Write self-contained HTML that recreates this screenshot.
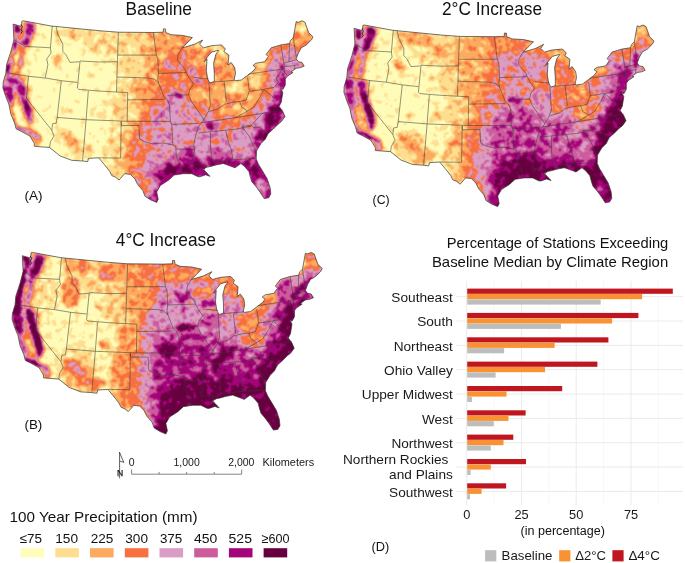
<!DOCTYPE html>
<html><head><meta charset="utf-8"><title>100 Year Precipitation</title>
<style>
html,body{margin:0;padding:0;background:#fff}
body{width:685px;height:563px;overflow:hidden}
svg{display:block}
text{font-family:"Liberation Sans",Arial,sans-serif;fill:#111}
.cal{fill:#111}
.ax{fill:#1a1a1a}
</style></head><body>
<svg width="685" height="563" viewBox="0 0 685 563">
<rect width="685" height="563" fill="#fff"/>
<defs>

<path id="us" d="M13.1,24.1 L17.5,25.3 L20.6,26.3 L21.6,24.0 L21.9,21.1 L23.4,20.8 L51.1,26.0 L100.0,30.8 L118.4,32.2 L153.4,32.5 L163.3,32.2 L163.3,28.9 L165.4,28.9 L165.8,32.5 L170.9,34.7 L182.6,35.4 L188.0,36.6 L192.4,37.6 L188.8,41.3 L184.4,45.7 L182.2,47.8 L187.3,46.4 L194.6,44.2 L202.6,40.1 L199.7,44.2 L203.4,47.8 L211.4,45.7 L221.6,44.9 L225.3,48.9 L223.8,51.5 L228.9,55.1 L228.2,63.2 L228.0,65.0 L231.1,62.4 L234.7,67.6 L235.5,73.4 L234.0,80.0 L235.5,80.7 L241.3,80.0 L247.2,75.6 L253.0,71.2 L255.9,67.6 L253.0,65.4 L255.9,63.2 L264.7,61.7 L268.3,56.6 L266.1,54.4 L271.2,47.8 L280.9,44.9 L289.6,43.5 L290.4,40.5 L293.3,37.6 L296.2,21.6 L298.4,22.3 L302.0,20.8 L305.0,22.3 L308.6,32.5 L313.0,36.9 L311.5,39.8 L306.4,44.9 L301.3,47.8 L298.4,53.0 L296.2,58.8 L298.4,61.7 L302.0,62.4 L304.2,66.1 L300.6,67.6 L296.2,68.3 L291.1,71.9 L293.0,72.5 L287.0,76.5 L285.3,79.2 L285.3,85.1 L282.8,89.6 L280.6,88.1 L282.8,92.5 L281.3,102.0 L279.1,106.4 L282.8,111.5 L285.0,116.6 L281.3,121.7 L278.4,123.9 L273.3,129.0 L268.2,133.4 L265.3,139.2 L260.9,143.6 L256.5,150.9 L256.2,159.1 L258.4,164.2 L262.8,171.5 L267.2,178.8 L270.1,187.6 L270.8,194.1 L268.6,197.8 L264.2,198.5 L259.9,191.9 L256.2,186.8 L251.8,181.7 L250.4,177.3 L248.9,171.5 L244.5,166.4 L240.9,163.5 L235.0,167.8 L231.4,166.4 L223.4,163.5 L216.1,164.9 L210.9,166.4 L207.3,167.1 L202.9,169.3 L206.0,172.0 L210.0,176.3 L205.6,174.8 L200.0,176.8 L197.6,176.6 L191.8,173.7 L183.0,173.7 L174.2,175.1 L168.4,180.3 L160.4,185.4 L156.7,191.9 L158.2,199.2 L156.7,202.4 L150.9,200.0 L145.0,196.3 L142.8,190.5 L137.7,184.6 L134.8,178.8 L130.4,174.4 L124.6,173.7 L120.2,178.8 L119.1,180.0 L115.8,177.3 L111.8,175.6 L109.6,171.2 L103.8,163.9 L98.7,157.8 L88.5,158.4 L87.7,161.7 L82.6,161.0 L71.7,160.3 L60.0,155.9 L49.6,147.5 L34.3,146.3 L34.3,143.4 L29.9,136.1 L21.9,131.7 L16.1,128.8 L14.6,123.0 L10.9,114.2 L8.8,104.0 L5.8,96.7 L2.9,88.0 L3.2,82.2 L5.8,73.4 L6.6,64.6 L10.9,51.5 L13.9,39.8Z M218.0,50.3 L211.4,52.2 L207.7,56.6 L204.1,61.7 L207.0,58.8 L206.3,70.5 L207.7,79.2 L210.0,82.9 L214.3,81.4 L214.3,73.4 L213.6,63.2 L215.8,54.4 L218.7,50.5Z" fill-rule="evenodd" clip-rule="evenodd"/>
<g id="borders" fill="none" stroke="#3a3a34" stroke-width="0.6" stroke-opacity="0.9" stroke-linejoin="round">
<path d="M13.9,39.8 L19.0,42.7 L25.5,46.4 L43.8,47.4 L50.4,47.8"/>
<path d="M52.3,26.0 L50.4,47.8 L51.1,53.0 L46.7,58.8 L47.9,64.6 L45.3,77.8"/>
<path d="M6.6,72.7 L28.5,76.3 L45.3,78.0 L61.3,80.7 L77.4,82.4"/>
<path d="M56.2,26.7 L57.7,34.0 L62.8,44.2 L62.8,51.5 L65.7,54.4 L70.0,62.4 L79.6,61.7"/>
<path d="M80.0,61.4 L77.4,88.0 L78.8,89.4 L100.0,91.1 L116.5,92.0"/>
<path d="M80.0,61.0 L100.0,62.0 L117.4,61.7"/>
<path d="M28.5,76.3 L26.3,98.1 L51.8,130.3 L54.0,136.1 L50.4,141.9 L49.6,147.5"/>
<path d="M51.8,130.3 L52.6,123.7 L56.2,123.2 L57.2,117.4 L61.3,80.7"/>
<path d="M57.2,117.4 L86.1,119.7 L127.2,121.3"/>
<path d="M88.3,90.8 L86.1,119.7 L82.6,161.0"/>
<path d="M118.4,32.2 L117.4,61.7 L116.5,92.0"/>
<path d="M118.0,55.1 L156.3,55.1"/>
<path d="M116.8,77.0 L148.4,78.0 L154.2,79.1 L158.6,83.1 L161.5,90.4 L164.5,97.7 L167.4,99.9 L169.6,105.0 L170.3,121.4"/>
<path d="M153.4,32.5 L156.3,55.1 L157.8,58.8 L158.5,73.4 L157.8,79.5 L158.6,83.1"/>
<path d="M158.5,73.4 L186.3,72.5"/>
<path d="M182.2,47.8 L178.2,54.4 L177.5,60.3 L184.8,69.0 L186.3,72.5 L189.2,78.1 L193.6,84.0 L189.9,89.1 L188.5,94.9 L191.4,101.5 L196.5,108.8 L201.6,116.1 L203.8,119.7 L200.9,123.4 L198.7,126.3 L195.8,135.1 L193.6,145.0 L194.7,149.6 L193.9,154.0 L191.0,164.2 L203.4,164.2 L204.9,171.5"/>
<path d="M116.5,92.0 L127.7,92.6 L127.2,121.3"/>
<path d="M127.7,99.9 L164.5,99.4"/>
<path d="M127.2,121.3 L170.3,121.4"/>
<path d="M121.2,121.4 L121.4,125.5 L138.9,125.5 L139.6,138.6 L144.0,141.5 L152.3,143.8 L163.0,143.0 L172.8,144.8"/>
<path d="M121.2,121.4 L120.6,158.1 L98.7,157.8"/>
<path d="M170.3,121.4 L171.8,124.7 L172.8,144.8 L175.7,146.5 L176.4,156.9 L180.1,164.2 L181.5,173.7"/>
<path d="M171.8,124.4 L198.7,123.4"/>
<path d="M167.4,95.3 L188.5,94.9"/>
<path d="M175.7,149.0 L194.7,149.6"/>
<path d="M193.6,77.4 L208.9,78.9"/>
<path d="M208.9,82.5 L210.4,105.9 L208.2,110.8"/>
<path d="M203.8,119.3 L208.2,111.7 L218.4,108.8 L224.2,104.4 L233.0,102.2 L239.6,101.5 L246.1,100.0 L249.3,91.3 L247.6,77.4"/>
<path d="M224.2,81.8 L226.4,101.8"/>
<path d="M214.0,82.0 L234.5,80.3"/>
<path d="M239.6,101.5 L241.8,107.3 L247.6,111.0 L253.4,107.3 L260.0,97.1 L263.8,89.6"/>
<path d="M249.3,91.3 L256.4,90.5 L274.0,87.4 L278.4,82.3 L276.2,77.9 L279.0,74.5 L282.3,69.0"/>
<path d="M248.5,75.0 L249.0,74.0 L282.3,69.0 L286.7,74.9"/>
<path d="M263.8,89.6 L271.1,95.4 L276.9,100.5"/>
<path d="M201.6,122.7 L235.9,117.6 L247.6,111.0"/>
<path d="M235.9,117.6 L282.8,110.0"/>
<path d="M198.7,132.9 L235.9,129.2 L250.5,126.3 L262.0,113.5"/>
<path d="M210.4,132.2 L210.5,145.0 L211.7,162.7"/>
<path d="M225.7,130.7 L229.3,145.0 L231.4,149.6 L232.8,159.8"/>
<path d="M213.1,162.0 L232.8,159.8 L254.7,158.4"/>
<path d="M241.9,126.5 L249.2,136.3 L255.8,150.9"/>
<path d="M241.9,126.5 L251.4,125.4 L253.6,127.6 L259.4,127.6 L268.2,133.4"/>
<path d="M280.9,44.9 L283.8,63.2 L284.5,72.7"/>
<path d="M289.6,43.5 L288.9,61.7"/>
<path d="M293.3,37.6 L296.2,57.3"/>
<path d="M283.8,63.2 L296.9,59.5"/>
<path d="M283.8,66.8 L295.5,65.4"/>
<path d="M294.6,65.5 L294.8,69.0"/>
<path d="M21.2,24.5 L22.3,27.0 L21.2,29.5 L22.2,31.5 L20.8,33.5" stroke="#222" stroke-width="1"/>
</g>
<clipPath id="clipA"><use href="#us" transform="translate(0,0)" clip-rule="evenodd"/></clipPath>
<filter id="fA" filterUnits="userSpaceOnUse" x="-10" y="5" width="340" height="215" color-interpolation-filters="sRGB">
<feGaussianBlur in="SourceGraphic" stdDeviation="1.6" result="f"/>
<feTurbulence type="fractalNoise" baseFrequency="0.15" numOctaves="3" seed="3" result="n"/>
<feColorMatrix in="n" type="matrix" values="1 0 0 0 0 1 0 0 0 0 1 0 0 0 0 0 0 0 0 1" result="ng"/>
<feComposite in="f" in2="ng" operator="arithmetic" k1="0" k2="1" k3="0.5" k4="-0.25" result="s"/>
<feComponentTransfer in="s"><feFuncR type="discrete" tableValues="1.000 0.996 0.992 0.973 0.855 0.800 0.647 0.400"/><feFuncG type="discrete" tableValues="0.992 0.867 0.667 0.439 0.616 0.361 0.016 0.000"/><feFuncB type="discrete" tableValues="0.733 0.557 0.369 0.247 0.776 0.612 0.482 0.247"/></feComponentTransfer>
<feConvolveMatrix order="3" kernelMatrix="1 2 1 2 5 2 1 2 1" divisor="17" edgeMode="duplicate" preserveAlpha="true"/>
</filter>
<clipPath id="clipB"><use href="#us" transform="translate(9.2,231.6)" clip-rule="evenodd"/></clipPath>
<filter id="fB" filterUnits="userSpaceOnUse" x="-0.8000000000000007" y="236.6" width="340" height="215" color-interpolation-filters="sRGB">
<feGaussianBlur in="SourceGraphic" stdDeviation="1.6" result="f"/>
<feTurbulence type="fractalNoise" baseFrequency="0.15" numOctaves="3" seed="11" result="n"/>
<feColorMatrix in="n" type="matrix" values="1 0 0 0 0 1 0 0 0 0 1 0 0 0 0 0 0 0 0 1" result="ng"/>
<feComposite in="f" in2="ng" operator="arithmetic" k1="0" k2="1" k3="0.5" k4="-0.25" result="s"/>
<feComponentTransfer in="s"><feFuncR type="discrete" tableValues="1.000 0.996 0.992 0.973 0.855 0.800 0.647 0.400"/><feFuncG type="discrete" tableValues="0.992 0.867 0.667 0.439 0.616 0.361 0.016 0.000"/><feFuncB type="discrete" tableValues="0.733 0.557 0.369 0.247 0.776 0.612 0.482 0.247"/></feComponentTransfer>
<feConvolveMatrix order="3" kernelMatrix="1 2 1 2 5 2 1 2 1" divisor="17" edgeMode="duplicate" preserveAlpha="true"/>
</filter>
<clipPath id="clipC"><use href="#us" transform="translate(341,4.2)" clip-rule="evenodd"/></clipPath>
<filter id="fC" filterUnits="userSpaceOnUse" x="331" y="9.2" width="340" height="215" color-interpolation-filters="sRGB">
<feGaussianBlur in="SourceGraphic" stdDeviation="1.6" result="f"/>
<feTurbulence type="fractalNoise" baseFrequency="0.15" numOctaves="3" seed="7" result="n"/>
<feColorMatrix in="n" type="matrix" values="1 0 0 0 0 1 0 0 0 0 1 0 0 0 0 0 0 0 0 1" result="ng"/>
<feComposite in="f" in2="ng" operator="arithmetic" k1="0" k2="1" k3="0.5" k4="-0.25" result="s"/>
<feComponentTransfer in="s"><feFuncR type="discrete" tableValues="1.000 0.996 0.992 0.973 0.855 0.800 0.647 0.400"/><feFuncG type="discrete" tableValues="0.992 0.867 0.667 0.439 0.616 0.361 0.016 0.000"/><feFuncB type="discrete" tableValues="0.733 0.557 0.369 0.247 0.776 0.612 0.482 0.247"/></feComponentTransfer>
<feConvolveMatrix order="3" kernelMatrix="1 2 1 2 5 2 1 2 1" divisor="17" edgeMode="duplicate" preserveAlpha="true"/>
</filter>
<filter id="zb" x="-5%" y="-5%" width="110%" height="110%" color-interpolation-filters="sRGB"><feGaussianBlur stdDeviation="3.5"/></filter>
</defs>
<g clip-path="url(#clipA)"><g filter="url(#fA)"><g transform="translate(0,0)"><g filter="url(#zb)">
<rect x="-20" y="-5" width="360" height="235" fill="#080808"/>
<path d="M86.0,28.0C67.0,33.8 85.0,40.3 86.0,45.0C87.0,49.7 88.8,53.5 92.0,56.0C95.2,58.5 101.0,59.0 105.0,60.0C109.0,61.0 114.2,57.0 116.0,62.0C117.8,67.0 117.3,84.5 116.0,90.0C114.7,95.5 110.0,91.7 108.0,95.0C106.0,98.3 103.7,105.8 104.0,110.0C104.3,114.2 109.3,116.7 110.0,120.0C110.7,123.3 109.0,125.0 108.0,130.0C107.0,135.0 104.8,144.2 104.0,150.0C103.2,155.8 102.0,159.2 103.0,165.0C104.0,170.8 100.5,177.5 110.0,185.0C119.5,192.5 131.7,205.8 160.0,210.0C188.3,214.2 251.7,228.3 280.0,210.0C308.3,191.7 323.3,133.3 330.0,100.0C336.7,66.7 341.7,25.0 320.0,10.0C298.3,-5.0 239.0,7.0 200.0,10.0C161.0,13.0 105.0,22.2 86.0,28.0Z" fill="#303030"/>
<path d="M150.0,25.0C121.7,30.8 150.8,40.0 150.0,45.0C149.2,50.0 146.2,51.7 145.0,55.0C143.8,58.3 143.8,61.7 143.0,65.0C142.2,68.3 141.8,71.7 140.0,75.0C138.2,78.3 133.3,81.2 132.0,85.0C130.7,88.8 131.0,95.5 132.0,98.0C133.0,100.5 137.0,96.7 138.0,100.0C139.0,103.3 139.7,113.8 138.0,118.0C136.3,122.2 130.3,121.3 128.0,125.0C125.7,128.7 125.0,133.3 124.0,140.0C123.0,146.7 122.0,158.3 122.0,165.0C122.0,171.7 117.7,172.5 124.0,180.0C130.3,187.5 134.0,205.0 160.0,210.0C186.0,215.0 251.7,228.3 280.0,210.0C308.3,191.7 323.3,133.3 330.0,100.0C336.7,66.7 350.0,22.5 320.0,10.0C290.0,-2.5 178.3,19.2 150.0,25.0Z" fill="#505050"/>
<path d="M200.0,38.0C196.7,37.5 189.7,44.7 185.0,47.0C180.3,49.3 175.8,49.8 172.0,52.0C168.2,54.2 164.0,56.2 162.0,60.0C160.0,63.8 161.0,71.3 160.0,75.0C159.0,78.7 157.3,79.2 156.0,82.0C154.7,84.8 153.3,89.0 152.0,92.0C150.7,95.0 148.7,97.3 148.0,100.0C147.3,102.7 148.3,105.0 148.0,108.0C147.7,111.0 147.7,114.7 146.0,118.0C144.3,121.3 140.7,124.3 138.0,128.0C135.3,131.7 131.3,133.8 130.0,140.0C128.7,146.2 129.5,158.3 130.0,165.0C130.5,171.7 128.0,172.5 133.0,180.0C138.0,187.5 135.5,205.0 160.0,210.0C184.5,215.0 256.7,228.3 280.0,210.0C303.3,191.7 296.7,125.0 300.0,100.0C303.3,75.0 302.5,70.0 300.0,60.0C297.5,50.0 291.3,40.8 285.0,40.0C278.7,39.2 267.8,50.0 262.0,55.0C256.2,60.0 253.7,65.2 250.0,70.0C246.3,74.8 245.8,81.3 240.0,84.0C234.2,86.7 221.2,90.0 215.0,86.0C208.8,82.0 204.7,66.0 203.0,60.0C201.3,54.0 205.5,53.7 205.0,50.0C204.5,46.3 203.3,38.5 200.0,38.0Z" fill="#707070"/>
<path d="M164.0,95.0C167.8,93.5 179.5,93.0 183.0,94.0C186.5,95.0 182.8,98.5 185.0,101.0C187.2,103.5 192.8,106.7 196.0,109.0C199.2,111.3 201.7,114.3 204.0,115.0C206.3,115.7 207.2,111.7 210.0,113.0C212.8,114.3 216.7,120.3 221.0,123.0C225.3,125.7 231.7,129.0 236.0,129.0C240.3,129.0 243.7,126.2 247.0,123.0C250.3,119.8 252.5,113.7 256.0,110.0C259.5,106.3 265.5,104.0 268.0,101.0C270.5,98.0 269.8,94.8 271.0,92.0C272.2,89.2 275.3,87.7 275.0,84.0C274.7,80.3 270.0,74.3 269.0,70.0C268.0,65.7 268.7,61.3 269.0,58.0C269.3,54.7 269.0,50.0 271.0,50.0C273.0,50.0 278.2,58.3 281.0,58.0C283.8,57.7 285.8,50.2 288.0,48.0C290.2,45.8 292.0,45.2 294.0,45.0C296.0,44.8 297.3,44.5 300.0,47.0C302.7,49.5 310.0,51.2 310.0,60.0C310.0,68.8 303.3,88.3 300.0,100.0C296.7,111.7 293.3,111.7 290.0,130.0C286.7,148.3 301.7,196.7 280.0,210.0C258.3,223.3 181.7,211.7 160.0,210.0C138.3,208.3 152.5,203.3 150.0,200.0C147.5,196.7 146.7,194.0 145.0,190.0C143.3,186.0 139.7,182.7 140.0,176.0C140.3,169.3 145.8,156.8 147.0,150.0C148.2,143.2 148.2,138.3 147.0,135.0C145.8,131.7 139.8,133.2 140.0,130.0C140.2,126.8 146.3,119.3 148.0,116.0C149.7,112.7 148.0,112.2 150.0,110.0C152.0,107.8 157.7,105.5 160.0,103.0C162.3,100.5 160.2,96.5 164.0,95.0Z" fill="#8f8f8f"/>
<path d="M148.0,205.0C126.5,202.7 150.0,198.8 151.0,196.0C152.0,193.2 153.3,190.5 154.0,188.0C154.7,185.5 155.8,182.8 155.0,181.0C154.2,179.2 150.0,178.8 149.0,177.0C148.0,175.2 147.5,172.2 149.0,170.0C150.5,167.8 154.2,165.7 158.0,164.0C161.8,162.3 167.3,162.7 172.0,160.0C176.7,157.3 182.0,150.3 186.0,148.0C190.0,145.7 194.0,144.3 196.0,146.0C198.0,147.7 195.3,157.0 198.0,158.0C200.7,159.0 208.0,153.7 212.0,152.0C216.0,150.3 219.0,147.3 222.0,148.0C225.0,148.7 226.5,154.3 230.0,156.0C233.5,157.7 238.7,158.2 243.0,158.0C247.3,157.8 254.5,158.0 256.0,155.0C257.5,152.0 251.0,144.8 252.0,140.0C253.0,135.2 259.5,132.0 262.0,126.0C264.5,120.0 265.2,109.0 267.0,104.0C268.8,99.0 271.5,100.3 273.0,96.0C274.5,91.7 273.2,82.3 276.0,78.0C278.8,73.7 287.7,66.3 290.0,70.0C292.3,73.7 290.0,90.0 290.0,100.0C290.0,110.0 291.7,111.7 290.0,130.0C288.3,148.3 303.7,197.5 280.0,210.0C256.3,222.5 169.5,207.3 148.0,205.0Z" fill="#afafaf"/>
<path d="M151.0,204.0C130.0,201.7 153.0,198.7 154.0,196.0C155.0,193.3 156.2,190.7 157.0,188.0C157.8,185.3 159.8,182.2 159.0,180.0C158.2,177.8 153.2,176.5 152.0,175.0C150.8,173.5 150.7,172.3 152.0,171.0C153.3,169.7 157.0,168.2 160.0,167.0C163.0,165.8 167.3,165.5 170.0,164.0C172.7,162.5 173.0,160.3 176.0,158.0C179.0,155.7 184.8,151.5 188.0,150.0C191.2,148.5 193.5,147.3 195.0,149.0C196.5,150.7 195.2,158.2 197.0,160.0C198.8,161.8 202.3,161.5 206.0,160.0C209.7,158.5 215.2,151.2 219.0,151.0C222.8,150.8 225.2,157.5 229.0,159.0C232.8,160.5 237.7,160.2 242.0,160.0C246.3,159.8 253.0,160.3 255.0,158.0C257.0,155.7 253.7,150.0 254.0,146.0C254.3,142.0 255.3,137.7 257.0,134.0C258.7,130.3 262.2,127.2 264.0,124.0C265.8,120.8 267.0,118.3 268.0,115.0C269.0,111.7 268.7,107.0 270.0,104.0C271.3,101.0 274.7,101.0 276.0,97.0C277.3,93.0 275.7,84.2 278.0,80.0C280.3,75.8 288.0,63.7 290.0,72.0C292.0,80.3 291.7,107.0 290.0,130.0C288.3,153.0 303.2,197.7 280.0,210.0C256.8,222.3 172.0,206.3 151.0,204.0Z" fill="#cfcfcf"/>
<path d="M206.0,52.0C207.3,49.0 217.7,45.0 222.0,46.0C226.3,47.0 229.7,53.3 232.0,58.0C234.3,62.7 233.0,72.0 236.0,74.0C239.0,76.0 245.7,72.7 250.0,70.0C254.3,67.3 259.0,59.7 262.0,58.0C265.0,56.3 268.0,57.3 268.0,60.0C268.0,62.7 263.7,68.7 262.0,74.0C260.3,79.3 260.7,87.7 258.0,92.0C255.3,96.3 251.0,98.3 246.0,100.0C241.0,101.7 233.7,101.3 228.0,102.0C222.3,102.7 215.2,107.0 212.0,104.0C208.8,101.0 208.7,87.7 209.0,84.0C209.3,80.3 213.2,85.3 214.0,82.0C214.8,78.7 215.3,69.0 214.0,64.0C212.7,59.0 204.7,55.0 206.0,52.0Z" fill="#535353"/>
<path d="M12.8,23.8C16.4,21.1 31.2,22.3 35.0,23.8C38.9,25.2 36.4,29.1 35.8,32.5C35.2,35.9 33.1,40.8 31.4,44.2C29.7,47.6 26.9,49.8 25.5,53.0C24.2,56.1 24.0,59.8 23.4,63.2C22.7,66.6 20.9,70.7 21.9,73.4C22.9,76.1 28.2,75.6 29.2,79.2C30.2,82.8 32.2,92.4 27.7,95.0C23.2,97.6 6.3,97.1 2.2,95.0C-1.9,92.9 2.4,85.8 2.9,82.2C3.5,78.6 5.0,76.3 5.5,73.4C6.1,70.5 5.3,68.3 6.1,64.6C7.0,61.0 9.3,55.6 10.5,51.5C11.7,47.4 13.0,44.4 13.4,39.8C13.8,35.2 9.2,26.4 12.8,23.8Z" fill="#505050"/>
</g>
<path d="M256.0,180.0C256.8,178.5 260.3,177.3 262.0,178.0C263.7,178.7 265.3,181.7 266.0,184.0C266.7,186.3 266.8,190.7 266.0,192.0C265.2,193.3 262.5,192.8 261.0,192.0C259.5,191.2 257.8,189.0 257.0,187.0C256.2,185.0 255.2,181.5 256.0,180.0Z" fill="#8f8f8f"/>
<path d="M167.0,166.0C168.5,165.5 171.5,165.5 173.0,166.0C174.5,166.5 175.5,167.4 176.0,168.8C176.5,170.1 176.5,172.9 176.0,174.2C175.5,175.6 174.5,176.5 173.0,177.0C171.5,177.5 168.5,177.5 167.0,177.0C165.5,176.5 164.5,175.6 164.0,174.2C163.5,172.9 163.5,170.1 164.0,168.8C164.5,167.4 165.5,166.5 167.0,166.0Z" fill="#efefef"/>
<path d="M182.2,164.0C183.4,163.7 185.6,163.7 186.8,164.0C187.9,164.3 188.6,164.9 189.0,165.9C189.4,166.8 189.4,168.7 189.0,169.6C188.6,170.6 187.9,171.2 186.8,171.5C185.6,171.8 183.4,171.8 182.2,171.5C181.1,171.2 180.4,170.6 180.0,169.6C179.6,168.7 179.6,166.8 180.0,165.9C180.4,164.9 181.1,164.3 182.2,164.0Z" fill="#efefef"/>
<path d="M196.9,162.7C198.0,162.5 200.1,162.5 201.2,162.7C202.3,162.9 203.0,163.2 203.4,163.8C203.8,164.3 203.8,165.4 203.4,165.9C203.0,166.5 202.3,166.8 201.2,167.0C200.1,167.2 198.0,167.2 196.9,167.0C195.8,166.8 195.1,166.5 194.7,165.9C194.3,165.4 194.3,164.3 194.7,163.8C195.1,163.2 195.8,162.9 196.9,162.7Z" fill="#efefef"/>
<path d="M246.2,161.0C246.9,160.8 248.1,160.8 248.8,161.0C249.4,161.2 249.8,161.6 250.0,162.2C250.2,162.9 250.2,164.1 250.0,164.8C249.8,165.4 249.4,165.8 248.8,166.0C248.1,166.2 246.9,166.2 246.2,166.0C245.6,165.8 245.2,165.4 245.0,164.8C244.8,164.1 244.8,162.9 245.0,162.2C245.2,161.6 245.6,161.2 246.2,161.0Z" fill="#efefef"/>
<path d="M252.1,168.0C252.7,167.9 253.8,167.9 254.4,168.0C254.9,168.1 255.3,168.4 255.5,168.9C255.7,169.3 255.7,170.2 255.5,170.6C255.3,171.1 254.9,171.4 254.4,171.5C253.8,171.6 252.7,171.6 252.1,171.5C251.6,171.4 251.2,171.1 251.0,170.6C250.8,170.2 250.8,169.3 251.0,168.9C251.2,168.4 251.6,168.1 252.1,168.0Z" fill="#efefef"/>
<path d="M272.5,105.7C274.0,105.4 276.9,105.4 278.4,105.7C279.8,106.0 280.8,106.6 281.3,107.5C281.8,108.4 281.8,110.3 281.3,111.2C280.8,112.1 279.8,112.7 278.4,113.0C276.9,113.3 274.0,113.3 272.5,113.0C271.1,112.7 270.1,112.1 269.6,111.2C269.1,110.3 269.1,108.4 269.6,107.5C270.1,106.6 271.1,106.0 272.5,105.7Z" fill="#efefef"/>
<path d="M268.2,114.0C269.9,113.6 273.1,113.6 274.8,114.0C276.4,114.4 277.5,115.1 278.0,116.2C278.5,117.4 278.5,119.6 278.0,120.8C277.5,121.9 276.4,122.6 274.8,123.0C273.1,123.4 269.9,123.4 268.2,123.0C266.6,122.6 265.5,121.9 265.0,120.8C264.5,119.6 264.5,117.4 265.0,116.2C265.5,115.1 266.6,114.4 268.2,114.0Z" fill="#efefef"/>
<path d="M259.4,132.0C260.8,131.7 263.7,131.7 265.1,132.0C266.6,132.3 267.5,132.9 268.0,133.8C268.5,134.6 268.5,136.4 268.0,137.2C267.5,138.1 266.6,138.7 265.1,139.0C263.7,139.3 260.8,139.3 259.4,139.0C257.9,138.7 257.0,138.1 256.5,137.2C256.0,136.4 256.0,134.6 256.5,133.8C257.0,132.9 257.9,132.3 259.4,132.0Z" fill="#efefef"/>
<path d="M144.0,178.0C145.5,177.4 148.5,177.4 150.0,178.0C151.5,178.6 152.5,179.9 153.0,181.8C153.5,183.6 153.5,187.4 153.0,189.2C152.5,191.1 151.5,192.4 150.0,193.0C148.5,193.6 145.5,193.6 144.0,193.0C142.5,192.4 141.5,191.1 141.0,189.2C140.5,187.4 140.5,183.6 141.0,181.8C141.5,179.9 142.5,178.6 144.0,178.0Z" fill="#767676"/>
<path d="M279.0,64.0C279.3,61.2 281.2,61.2 282.0,63.0C282.8,64.8 283.7,69.7 284.0,75.0C284.3,80.3 285.0,91.7 284.0,95.0C283.0,98.3 278.7,97.5 278.0,95.0C277.3,92.5 279.8,85.2 280.0,80.0C280.2,74.8 278.7,66.8 279.0,64.0Z" fill="#c2c2c2"/>
<path d="M165.1,61.0C165.8,60.8 167.3,60.8 168.0,61.0C168.8,61.2 169.3,61.5 169.5,62.1C169.7,62.7 169.7,63.8 169.5,64.3C169.3,64.9 168.8,65.2 168.0,65.4C167.3,65.6 165.8,65.6 165.1,65.4C164.3,65.2 163.8,64.9 163.6,64.3C163.4,63.8 163.4,62.7 163.6,62.1C163.8,61.5 164.3,61.2 165.1,61.0Z" fill="#8f8f8f"/>
<path d="M174.9,64.6C176.2,64.4 178.8,64.4 180.1,64.6C181.3,64.8 182.2,65.3 182.6,66.1C183.0,66.8 183.0,68.3 182.6,69.0C182.2,69.8 181.3,70.3 180.1,70.5C178.8,70.7 176.2,70.7 174.9,70.5C173.7,70.3 172.8,69.8 172.4,69.0C172.0,68.3 172.0,66.8 172.4,66.1C172.8,65.3 173.7,64.8 174.9,64.6Z" fill="#8f8f8f"/>
<path d="M190.8,69.0C192.0,68.6 194.4,68.6 195.6,69.0C196.8,69.4 197.6,70.1 198.0,71.2C198.4,72.3 198.4,74.5 198.0,75.6C197.6,76.7 196.8,77.4 195.6,77.8C194.4,78.2 192.0,78.2 190.8,77.8C189.6,77.4 188.8,76.7 188.4,75.6C188.0,74.5 188.0,72.3 188.4,71.2C188.8,70.1 189.6,69.4 190.8,69.0Z" fill="#8f8f8f"/>
<path d="M182.1,81.4C182.7,81.1 183.8,81.1 184.4,81.4C184.9,81.7 185.3,82.2 185.5,83.1C185.7,83.9 185.7,85.5 185.5,86.3C185.3,87.2 184.9,87.7 184.4,88.0C183.8,88.3 182.7,88.3 182.1,88.0C181.6,87.7 181.2,87.2 181.0,86.3C180.8,85.5 180.8,83.9 181.0,83.1C181.2,82.2 181.6,81.7 182.1,81.4Z" fill="#8f8f8f"/>
<path d="M196.2,78.0C197.4,77.8 200.0,77.8 201.2,78.0C202.5,78.2 203.4,78.8 203.8,79.5C204.2,80.2 204.2,81.8 203.8,82.5C203.4,83.2 202.5,83.8 201.2,84.0C200.0,84.2 197.4,84.2 196.2,84.0C194.9,83.8 194.0,83.2 193.6,82.5C193.2,81.8 193.2,80.2 193.6,79.5C194.0,78.8 194.9,78.2 196.2,78.0Z" fill="#8f8f8f"/>
<path d="M165.9,65.0C167.3,64.8 170.2,64.8 171.7,65.0C173.1,65.2 174.1,65.5 174.6,66.1C175.1,66.6 175.1,67.8 174.6,68.3C174.1,68.9 173.1,69.2 171.7,69.4C170.2,69.6 167.3,69.6 165.9,69.4C164.5,69.2 163.5,68.9 163.0,68.3C162.5,67.8 162.5,66.6 163.0,66.1C163.5,65.5 164.5,65.2 165.9,65.0Z" fill="#8f8f8f"/>
<path d="M172.5,93.0C174.2,92.8 177.8,92.8 179.5,93.0C181.2,93.2 182.4,93.6 183.0,94.2C183.6,94.9 183.6,96.1 183.0,96.8C182.4,97.4 181.2,97.8 179.5,98.0C177.8,98.2 174.2,98.2 172.5,98.0C170.8,97.8 169.6,97.4 169.0,96.8C168.4,96.1 168.4,94.9 169.0,94.2C169.6,93.6 170.8,93.2 172.5,93.0Z" fill="#cfcfcf"/>
<path d="M160.8,113.0C161.6,112.8 163.4,112.8 164.2,113.0C165.1,113.2 165.7,113.6 166.0,114.2C166.3,114.9 166.3,116.1 166.0,116.8C165.7,117.4 165.1,117.8 164.2,118.0C163.4,118.2 161.6,118.2 160.8,118.0C159.9,117.8 159.3,117.4 159.0,116.8C158.7,116.1 158.7,114.9 159.0,114.2C159.3,113.6 159.9,113.2 160.8,113.0Z" fill="#cfcfcf"/>
<path d="M208.8,122.0C210.1,121.6 212.9,121.6 214.2,122.0C215.6,122.4 216.5,123.1 217.0,124.2C217.5,125.4 217.5,127.6 217.0,128.8C216.5,129.9 215.6,130.6 214.2,131.0C212.9,131.4 210.1,131.4 208.8,131.0C207.4,130.6 206.5,129.9 206.0,128.8C205.5,127.6 205.5,125.4 206.0,124.2C206.5,123.1 207.4,122.4 208.8,122.0Z" fill="#cfcfcf"/>
<path d="M200.8,41.5C204.6,41.1 212.4,41.1 216.2,41.5C220.1,41.9 222.7,42.6 224.0,43.8C225.3,44.9 225.3,47.1 224.0,48.2C222.7,49.4 220.1,50.1 216.2,50.5C212.4,50.9 204.6,50.9 200.8,50.5C196.9,50.1 194.3,49.4 193.0,48.2C191.7,47.1 191.7,44.9 193.0,43.8C194.3,42.6 196.9,41.9 200.8,41.5Z" fill="#303030"/>
<path d="M219.4,50.0C220.8,49.6 223.7,49.6 225.1,50.0C226.6,50.4 227.5,51.1 228.0,52.2C228.5,53.3 228.5,55.5 228.0,56.6C227.5,57.7 226.6,58.4 225.1,58.8C223.7,59.2 220.8,59.2 219.4,58.8C217.9,58.4 217.0,57.7 216.5,56.6C216.0,55.5 216.0,53.3 216.5,52.2C217.0,51.1 217.9,50.4 219.4,50.0Z" fill="#303030"/>
<path d="M218.2,64.6C219.9,64.2 223.1,64.2 224.8,64.6C226.4,65.0 227.5,65.7 228.0,66.8C228.5,67.9 228.5,70.1 228.0,71.2C227.5,72.3 226.4,73.0 224.8,73.4C223.1,73.8 219.9,73.8 218.2,73.4C216.6,73.0 215.5,72.3 215.0,71.2C214.5,70.1 214.5,67.9 215.0,66.8C215.5,65.7 216.6,65.0 218.2,64.6Z" fill="#666666"/>
<path d="M230.8,82.5C232.6,82.0 236.4,82.0 238.2,82.5C240.1,83.0 241.4,83.9 242.0,85.4C242.6,86.8 242.6,89.7 242.0,91.1C241.4,92.6 240.1,93.5 238.2,94.0C236.4,94.5 232.6,94.5 230.8,94.0C228.9,93.5 227.6,92.6 227.0,91.1C226.4,89.7 226.4,86.8 227.0,85.4C227.6,83.9 228.9,83.0 230.8,82.5Z" fill="#303030"/>
<path d="M256.2,62.0C257.9,61.5 261.1,61.5 262.8,62.0C264.4,62.5 265.5,63.4 266.0,64.8C266.5,66.3 266.5,69.1 266.0,70.6C265.5,72.0 264.4,72.9 262.8,73.4C261.1,73.9 257.9,73.9 256.2,73.4C254.6,72.9 253.5,72.0 253.0,70.6C252.5,69.1 252.5,66.3 253.0,64.8C253.5,63.4 254.6,62.5 256.2,62.0Z" fill="#303030"/>
<path d="M236.2,104.0C237.9,103.6 241.1,103.6 242.8,104.0C244.4,104.4 245.5,105.3 246.0,106.7C246.5,108.0 246.5,110.6 246.0,111.9C245.5,113.3 244.4,114.2 242.8,114.6C241.1,115.0 237.9,115.0 236.2,114.6C234.6,114.2 233.5,113.3 233.0,111.9C232.5,110.6 232.5,108.0 233.0,106.7C233.5,105.3 234.6,104.4 236.2,104.0Z" fill="#303030"/>
<path d="M253.4,76.7C254.8,76.2 257.7,76.2 259.1,76.7C260.6,77.2 261.5,78.2 262.0,79.6C262.5,81.1 262.5,84.0 262.0,85.5C261.5,86.9 260.6,87.9 259.1,88.4C257.7,88.9 254.8,88.9 253.4,88.4C251.9,87.9 251.0,86.9 250.5,85.5C250.0,84.0 250.0,81.1 250.5,79.6C251.0,78.2 251.9,77.2 253.4,76.7Z" fill="#303030"/>
<path d="M246.0,100.0C249.7,95.7 256.8,89.0 260.0,88.0C263.2,87.0 266.0,91.0 265.0,94.0C264.0,97.0 257.2,102.7 254.0,106.0C250.8,109.3 248.7,112.7 246.0,114.0C243.3,115.3 238.0,116.3 238.0,114.0C238.0,111.7 242.3,104.3 246.0,100.0Z" fill="#505050"/>
<path d="M222.8,107.3C225.0,107.0 229.4,107.0 231.6,107.3C233.8,107.6 235.3,108.2 236.0,109.1C236.7,110.0 236.7,111.9 236.0,112.8C235.3,113.7 233.8,114.3 231.6,114.6C229.4,114.9 225.0,114.9 222.8,114.6C220.6,114.3 219.1,113.7 218.4,112.8C217.7,111.9 217.7,110.0 218.4,109.1C219.1,108.2 220.6,107.6 222.8,107.3Z" fill="#505050"/>
<path d="M193.8,87.0C196.1,86.4 200.9,86.4 203.2,87.0C205.6,87.6 207.2,88.8 208.0,90.6C208.8,92.4 208.8,96.1 208.0,97.9C207.2,99.7 205.6,100.9 203.2,101.5C200.9,102.1 196.1,102.1 193.8,101.5C191.4,100.9 189.8,99.7 189.0,97.9C188.2,96.1 188.2,92.4 189.0,90.6C189.8,88.8 191.4,87.6 193.8,87.0Z" fill="#505050"/>
<path d="M196.0,56.0C197.5,55.6 200.5,55.6 202.0,56.0C203.5,56.4 204.5,57.2 205.0,58.5C205.5,59.8 205.5,62.2 205.0,63.5C204.5,64.8 203.5,65.6 202.0,66.0C200.5,66.4 197.5,66.4 196.0,66.0C194.5,65.6 193.5,64.8 193.0,63.5C192.5,62.2 192.5,59.8 193.0,58.5C193.5,57.2 194.5,56.4 196.0,56.0Z" fill="#505050"/>
<path d="M296.0,21.0C297.3,19.0 303.8,19.5 306.0,21.0C308.2,22.5 310.3,28.0 309.0,30.0C307.7,32.0 300.2,34.5 298.0,33.0C295.8,31.5 294.7,23.0 296.0,21.0Z" fill="#303030"/>
<path d="M294.0,32.0C296.8,30.0 305.8,29.2 309.0,30.0C312.2,30.8 313.5,34.5 313.0,37.0C312.5,39.5 309.5,44.2 306.0,45.0C302.5,45.8 294.0,44.2 292.0,42.0C290.0,39.8 291.2,34.0 294.0,32.0Z" fill="#505050"/>
<path d="M13.1,24.1C14.1,21.6 18.5,23.6 19.7,25.2C20.9,26.9 20.8,30.8 20.4,34.0C20.1,37.1 18.2,41.0 17.5,44.2C16.8,47.4 16.7,49.8 16.1,53.0C15.5,56.1 14.6,59.8 13.9,63.2C13.1,66.6 12.5,71.2 11.7,73.4C10.8,75.6 9.7,76.3 8.8,76.3C7.8,76.3 6.2,75.3 5.8,73.4C5.5,71.4 5.7,68.3 6.6,64.6C7.4,61.0 9.7,55.6 10.9,51.5C12.2,47.4 13.5,44.4 13.9,39.8C14.2,35.2 12.2,26.5 13.1,24.1Z" fill="#8f8f8f"/>
<path d="M13.6,24.6C14.6,23.8 18.9,24.2 20.0,25.5C21.1,26.8 21.1,31.2 20.4,32.5C19.8,33.9 17.2,34.1 16.1,33.7C15.0,33.3 14.3,31.8 13.9,30.3C13.5,28.8 12.6,25.4 13.6,24.6Z" fill="#cfcfcf"/>
<path d="M14.6,27.0C15.3,26.3 18.5,27.0 19.3,27.8C20.0,28.7 19.6,31.5 19.0,32.2C18.3,32.9 16.1,32.8 15.3,31.9C14.6,31.1 13.9,27.7 14.6,27.0Z" fill="#efefef"/>
<path d="M13.1,40.1C13.9,39.2 15.8,39.5 16.4,41.0C16.9,42.4 17.1,47.4 16.6,48.9C16.2,50.3 14.4,50.2 13.6,49.7C12.8,49.3 12.0,48.0 12.0,46.4C11.9,44.8 12.4,41.0 13.1,40.1Z" fill="#cfcfcf"/>
<path d="M26.0,22.6C27.4,21.6 32.7,22.3 34.2,23.8C35.7,25.2 35.4,28.8 35.0,31.1C34.6,33.3 32.8,35.0 31.8,37.2C30.8,39.4 30.3,42.9 28.9,44.5C27.5,46.1 24.8,47.1 23.4,46.8C21.9,46.5 20.2,44.4 20.1,42.7C20.1,41.1 22.2,39.1 23.1,36.9C23.9,34.7 24.9,32.0 25.4,29.6C25.9,27.2 24.5,23.6 26.0,22.6Z" fill="#cfcfcf"/>
<path d="M20.1,46.4C21.1,45.4 24.5,45.0 25.1,47.1C25.7,49.2 24.3,54.9 23.6,58.8C23.0,62.7 22.4,68.0 21.3,70.5C20.2,72.9 17.8,74.6 17.2,73.4C16.7,72.2 17.7,66.6 18.1,63.2C18.5,59.8 19.2,55.8 19.6,53.0C19.9,50.2 19.2,47.4 20.1,46.4Z" fill="#8f8f8f"/>
<path d="M5.3,63.2C5.9,61.7 8.2,62.6 9.1,64.3C9.9,66.0 10.7,71.1 10.5,73.4C10.4,75.7 9.1,78.1 8.2,78.1C7.3,78.1 5.5,75.9 5.0,73.4C4.5,70.9 4.6,64.7 5.3,63.2Z" fill="#cfcfcf"/>
<path d="M5.5,65.4C5.9,64.3 7.7,65.0 8.2,66.1C8.6,67.2 8.6,71.2 8.2,72.2C7.8,73.2 6.3,73.4 5.8,72.2C5.4,71.1 5.2,66.4 5.5,65.4Z" fill="#efefef"/>
<path d="M17.2,50.0C18.0,49.8 19.8,50.8 19.9,53.0C20.0,55.1 18.7,60.3 17.8,63.2C16.9,66.1 15.3,70.5 14.6,70.5C13.9,70.5 13.5,65.9 13.6,63.2C13.7,60.5 14.6,56.6 15.2,54.4C15.8,52.2 16.4,50.3 17.2,50.0Z" fill="#303030"/>
<path d="M53.3,27.4C53.9,25.9 56.8,25.3 58.4,28.1C60.0,30.9 62.8,41.3 62.8,44.2C62.8,47.1 59.7,46.9 58.4,45.7C57.1,44.4 55.6,39.9 54.7,36.9C53.9,33.9 52.7,28.9 53.3,27.4Z" fill="#303030"/>
<path d="M52.6,54.4C53.9,53.4 59.1,54.2 61.3,55.9C63.5,57.6 66.2,62.4 65.7,64.6C65.2,66.8 60.5,69.5 58.4,69.0C56.3,68.5 54.3,64.1 53.3,61.7C52.3,59.3 51.2,55.4 52.6,54.4Z" fill="#303030"/>
<path d="M55.5,57.3C56.1,56.4 60.2,57.6 61.3,58.8C62.4,60.0 62.7,63.7 62.0,64.6C61.4,65.6 58.8,65.9 57.7,64.6C56.6,63.4 54.9,58.3 55.5,57.3Z" fill="#505050"/>
<path d="M57.7,28.1C60.8,27.2 78.2,27.4 81.8,29.6C85.3,31.8 81.0,39.6 78.8,41.3C76.6,43.0 71.3,40.8 68.6,39.8C65.9,38.8 64.6,37.4 62.8,35.4C60.9,33.5 54.5,29.1 57.7,28.1Z" fill="#303030"/>
<path d="M68.6,28.9C69.6,27.7 75.2,28.0 75.9,29.6C76.6,31.2 74.0,37.1 73.0,38.4C72.0,39.6 70.8,38.5 70.1,36.9C69.3,35.3 67.6,30.1 68.6,28.9Z" fill="#505050"/>
<path d="M86.1,71.9C87.1,71.7 92.3,73.6 93.4,74.9C94.5,76.1 93.7,79.0 92.7,79.2C91.7,79.5 88.7,77.5 87.6,76.3C86.5,75.1 85.2,72.2 86.1,71.9Z" fill="#303030"/>
<path d="M54.0,128.8C55.7,127.1 61.1,125.4 65.7,127.3C70.3,129.3 77.1,137.3 81.8,140.5C86.4,143.6 91.2,144.1 93.4,146.3C95.6,148.5 96.8,151.2 94.9,153.6C92.9,156.0 86.1,160.4 81.8,160.9C77.4,161.4 71.5,159.0 68.6,156.5C65.7,154.1 66.4,149.5 64.2,146.3C62.0,143.2 57.2,140.5 55.5,137.6C53.8,134.6 52.3,130.5 54.0,128.8Z" fill="#303030"/>
<path d="M61.3,133.2C62.3,132.4 67.2,132.9 70.1,134.6C73.0,136.3 78.3,141.4 78.8,143.4C79.3,145.3 75.4,147.0 73.0,146.3C70.6,145.6 66.2,141.2 64.2,139.0C62.3,136.8 60.3,133.9 61.3,133.2Z" fill="#505050"/>
<path d="M62.8,111.3C64.2,110.6 71.4,109.5 73.0,109.8C74.6,110.1 73.7,112.4 72.3,113.0C70.8,113.7 65.8,113.9 64.2,113.6C62.7,113.3 61.3,111.9 62.8,111.3Z" fill="#303030"/>
<path d="M90.5,109.8C91.8,108.4 98.4,107.1 100.0,108.4C101.6,109.6 101.3,115.7 100.0,117.1C98.7,118.6 93.6,118.3 92.0,117.1C90.4,115.9 89.2,111.3 90.5,109.8Z" fill="#303030"/>
<path d="M111.1,136.9C112.3,136.4 117.4,137.4 118.4,138.4C119.4,139.3 118.2,142.3 116.9,142.7C115.7,143.2 112.1,142.3 111.1,141.3C110.1,140.3 109.9,137.4 111.1,136.9Z" fill="#505050"/>
<path d="M102.8,146.8C103.2,145.8 105.1,146.2 105.5,147.6C106.0,148.9 106.0,153.6 105.5,154.7C105.1,155.8 103.2,155.3 102.8,154.0C102.3,152.7 102.3,147.9 102.8,146.8Z" fill="#505050"/>
<path d="M2.9,79.2C6.0,76.2 16.9,74.4 20.4,77.0C24.0,79.7 27.1,92.0 24.1,95.0C21.0,98.0 5.7,97.6 2.2,95.0C-1.3,92.4 -0.1,82.2 2.9,79.2Z" fill="#8f8f8f"/>
<path d="M6.6,77.8C7.8,77.0 14.2,78.0 16.1,79.2C17.9,80.5 18.7,84.3 17.5,85.1C16.3,85.8 10.6,84.8 8.8,83.6C6.9,82.4 5.4,78.5 6.6,77.8Z" fill="#cfcfcf"/>
<path d="M15.3,83.6C16.1,82.2 20.4,84.6 21.9,86.5C23.4,88.4 24.8,93.6 24.1,95.0C23.4,96.4 19.0,96.9 17.5,95.0C16.1,93.1 14.6,85.0 15.3,83.6Z" fill="#cfcfcf"/>
<path d="M13.9,85.0C15.5,82.1 24.5,83.1 27.0,85.0C29.6,86.9 27.9,91.8 29.2,96.7C30.5,101.5 34.3,109.6 35.0,114.2C35.8,118.8 34.8,122.5 33.6,124.4C32.4,126.4 29.7,127.6 27.7,125.9C25.8,124.2 23.6,118.1 21.9,114.2C20.2,110.3 18.9,107.4 17.5,102.5C16.2,97.7 12.3,87.9 13.9,85.0Z" fill="#505050"/>
<path d="M2.2,85.0C3.6,83.1 12.3,83.5 14.6,85.0C16.9,86.5 16.1,90.8 16.1,93.8C16.1,96.7 15.1,100.1 14.6,102.5C14.1,105.0 14.1,108.1 13.1,108.4C12.2,108.6 10.0,105.9 8.8,104.0C7.5,102.0 6.9,99.8 5.8,96.7C4.7,93.5 0.7,86.9 2.2,85.0Z" fill="#8f8f8f"/>
<path d="M4.1,87.2C4.7,85.1 10.5,86.6 12.0,88.6C13.4,90.7 13.5,97.5 12.8,99.6C12.2,101.7 9.5,103.4 8.0,101.4C6.6,99.3 3.4,89.3 4.1,87.2Z" fill="#cfcfcf"/>
<path d="M16.1,85.0C17.2,83.5 22.3,82.8 24.1,85.0C25.9,87.2 25.8,94.2 27.0,98.1C28.2,102.0 30.4,105.0 31.4,108.4C32.4,111.8 33.2,116.1 32.8,118.6C32.5,121.0 30.4,123.7 29.2,123.0C28.0,122.2 26.8,117.6 25.5,114.2C24.3,110.8 23.2,105.9 21.9,102.5C20.6,99.1 18.5,96.7 17.5,93.8C16.5,90.8 15.0,86.5 16.1,85.0Z" fill="#cfcfcf"/>
<path d="M23.8,100.3C24.3,99.1 26.8,99.9 28.0,102.2C29.2,104.5 30.9,111.7 30.9,114.2C31.0,116.7 29.4,118.1 28.5,117.4C27.5,116.7 26.0,112.7 25.3,109.8C24.5,107.0 23.3,101.6 23.8,100.3Z" fill="#efefef"/>
<path d="M8.5,103.7C8.9,102.7 11.9,104.7 13.4,108.4C15.0,112.1 17.5,122.7 17.8,125.9C18.1,129.1 16.2,129.6 15.0,127.6C13.8,125.7 11.8,118.2 10.7,114.2C9.6,110.2 8.0,104.7 8.5,103.7Z" fill="#707070"/>
<path d="M15.3,125.9C17.4,125.6 24.7,127.1 29.2,128.8C33.7,130.5 40.6,133.4 42.3,136.1C44.0,138.8 40.8,143.4 39.4,144.9C38.1,146.3 35.9,146.3 34.3,144.9C32.7,143.4 32.8,138.5 29.9,136.1C27.0,133.7 19.2,132.0 16.8,130.3C14.4,128.6 13.3,126.1 15.3,125.9Z" fill="#707070"/>
<path d="M15.8,126.3C16.9,126.0 21.3,126.9 23.4,127.8C25.4,128.7 28.3,131.0 28.0,131.7C27.8,132.4 23.8,132.3 21.9,132.0C20.0,131.7 17.5,130.8 16.5,129.8C15.5,128.9 14.6,126.7 15.8,126.3Z" fill="#cfcfcf"/>
<path d="M29.2,131.7C30.3,131.8 36.4,134.3 38.0,135.4C39.5,136.4 39.8,137.9 38.7,137.8C37.6,137.8 33.0,135.9 31.4,134.9C29.8,133.9 28.1,131.6 29.2,131.7Z" fill="#cfcfcf"/>
</g></g></g>
<use href="#borders" transform="translate(0,0)"/>
<use href="#us" transform="translate(0,0)" fill="none" stroke="#33332c" stroke-width="0.75" stroke-opacity="0.9" stroke-linejoin="round"/>
<g clip-path="url(#clipB)"><g filter="url(#fB)"><g transform="translate(9.2,231.6)"><g filter="url(#zb)">
<rect x="-20" y="-5" width="360" height="235" fill="#131313"/>
<path d="M62.0,24.0C71.0,21.5 108.8,23.7 118.0,30.0C127.2,36.3 117.3,52.3 117.0,62.0C116.7,71.7 119.2,83.3 116.0,88.0C112.8,92.7 102.0,94.3 98.0,90.0C94.0,85.7 95.8,67.0 92.0,62.0C88.2,57.0 79.7,62.8 75.0,60.0C70.3,57.2 66.2,51.0 64.0,45.0C61.8,39.0 53.0,26.5 62.0,24.0Z" fill="#393939"/>
<path d="M108.0,28.0C113.7,23.0 143.7,25.3 150.0,30.0C156.3,34.7 148.0,48.0 146.0,56.0C144.0,64.0 140.3,70.7 138.0,78.0C135.7,85.3 133.3,93.0 132.0,100.0C130.7,107.0 131.0,115.3 130.0,120.0C129.0,124.7 127.3,123.0 126.0,128.0C124.7,133.0 122.7,142.7 122.0,150.0C121.3,157.3 121.7,166.7 122.0,172.0C122.3,177.3 125.7,181.0 124.0,182.0C122.3,183.0 115.7,181.7 112.0,178.0C108.3,174.3 103.7,168.3 102.0,160.0C100.3,151.7 100.7,136.3 102.0,128.0C103.3,119.7 108.7,115.5 110.0,110.0C111.3,104.5 108.7,98.3 110.0,95.0C111.3,91.7 117.0,95.8 118.0,90.0C119.0,84.2 117.7,70.3 116.0,60.0C114.3,49.7 102.3,33.0 108.0,28.0Z" fill="#595959"/>
<path d="M130.0,28.0C139.0,24.3 187.3,30.7 200.0,34.0C212.7,37.3 201.3,46.0 206.0,48.0C210.7,50.0 223.0,43.3 228.0,46.0C233.0,48.7 234.0,58.3 236.0,64.0C238.0,69.7 237.3,78.7 240.0,80.0C242.7,81.3 247.3,75.3 252.0,72.0C256.7,68.7 264.7,64.3 268.0,60.0C271.3,55.7 267.3,49.3 272.0,46.0C276.7,42.7 292.0,44.7 296.0,40.0C300.0,35.3 293.7,21.3 296.0,18.0C298.3,14.7 306.7,16.7 310.0,20.0C313.3,23.3 317.7,34.0 316.0,38.0C314.3,42.0 304.3,42.7 300.0,44.0C295.7,45.3 295.3,42.3 290.0,46.0C284.7,49.7 273.7,60.3 268.0,66.0C262.3,71.7 259.0,74.3 256.0,80.0C253.0,85.7 252.7,96.0 250.0,100.0C247.3,104.0 243.3,104.7 240.0,104.0C236.7,103.3 232.3,99.3 230.0,96.0C227.7,92.7 228.7,86.0 226.0,84.0C223.3,82.0 217.3,89.7 214.0,84.0C210.7,78.3 211.3,55.7 206.0,50.0C200.7,44.3 189.7,49.0 182.0,50.0C174.3,51.0 165.3,52.7 160.0,56.0C154.7,59.3 152.3,64.3 150.0,70.0C147.7,75.7 147.7,83.3 146.0,90.0C144.3,96.7 141.7,103.3 140.0,110.0C138.3,116.7 137.3,123.3 136.0,130.0C134.7,136.7 132.7,142.3 132.0,150.0C131.3,157.7 132.3,170.3 132.0,176.0C131.7,181.7 131.7,184.0 130.0,184.0C128.3,184.0 123.3,181.7 122.0,176.0C120.7,170.3 121.3,158.0 122.0,150.0C122.7,142.0 124.7,133.0 126.0,128.0C127.3,123.0 129.0,124.7 130.0,120.0C131.0,115.3 130.7,107.0 132.0,100.0C133.3,93.0 135.7,85.3 138.0,78.0C140.3,70.7 147.3,64.3 146.0,56.0C144.7,47.7 121.0,31.7 130.0,28.0Z" fill="#767676"/>
<path d="M148.0,56.0C154.3,52.7 172.3,51.0 182.0,50.0C191.7,49.0 200.7,44.3 206.0,50.0C211.3,55.7 210.7,78.3 214.0,84.0C217.3,89.7 223.3,82.0 226.0,84.0C228.7,86.0 227.7,92.7 230.0,96.0C232.3,99.3 236.7,103.3 240.0,104.0C243.3,104.7 247.3,104.0 250.0,100.0C252.7,96.0 253.0,85.7 256.0,80.0C259.0,74.3 262.3,71.7 268.0,66.0C273.7,60.3 284.7,49.7 290.0,46.0C295.3,42.3 295.7,45.3 300.0,44.0C304.3,42.7 312.7,28.7 316.0,38.0C319.3,47.3 326.0,71.3 320.0,100.0C314.0,128.7 306.7,191.7 280.0,210.0C253.3,228.3 182.3,210.7 160.0,210.0C137.7,209.3 149.3,209.0 146.0,206.0C142.7,203.0 142.2,197.0 140.0,192.0C137.8,187.0 134.3,183.0 133.0,176.0C131.7,169.0 131.8,156.8 132.0,150.0C132.2,143.2 133.5,140.0 134.0,135.0C134.5,130.0 134.8,125.8 135.0,120.0C135.2,114.2 134.7,105.8 135.0,100.0C135.3,94.2 135.5,90.0 137.0,85.0C138.5,80.0 142.2,74.8 144.0,70.0C145.8,65.2 141.7,59.3 148.0,56.0Z" fill="#999999"/>
<path d="M143.0,128.0C143.8,121.7 144.5,116.3 146.0,112.0C147.5,107.7 147.0,104.0 152.0,102.0C157.0,100.0 169.3,99.7 176.0,100.0C182.7,100.3 187.3,102.7 192.0,104.0C196.7,105.3 200.0,107.3 204.0,108.0C208.0,108.7 212.0,107.3 216.0,108.0C220.0,108.7 224.3,110.7 228.0,112.0C231.7,113.3 235.0,114.7 238.0,116.0C241.0,117.3 243.0,120.7 246.0,120.0C249.0,119.3 253.3,115.3 256.0,112.0C258.7,108.7 260.3,104.7 262.0,100.0C263.7,95.3 264.7,90.0 266.0,84.0C267.3,78.0 268.0,69.7 270.0,64.0C272.0,58.3 274.7,52.0 278.0,50.0C281.3,48.0 287.0,52.0 290.0,52.0C293.0,52.0 293.0,50.7 296.0,50.0C299.0,49.3 304.0,39.7 308.0,48.0C312.0,56.3 324.7,73.0 320.0,100.0C315.3,127.0 306.7,191.7 280.0,210.0C253.3,228.3 182.0,210.7 160.0,210.0C138.0,209.3 150.8,209.0 148.0,206.0C145.2,203.0 144.2,197.0 143.0,192.0C141.8,187.0 141.3,183.0 141.0,176.0C140.7,169.0 140.7,158.0 141.0,150.0C141.3,142.0 142.2,134.3 143.0,128.0Z" fill="#b9b9b9"/>
<path d="M147.0,150.0C147.7,141.7 148.7,132.7 151.0,126.0C153.3,119.3 156.8,113.7 161.0,110.0C165.2,106.3 170.8,104.7 176.0,104.0C181.2,103.3 188.0,104.3 192.0,106.0C196.0,107.7 198.0,110.7 200.0,114.0C202.0,117.3 201.3,124.0 204.0,126.0C206.7,128.0 212.0,125.3 216.0,126.0C220.0,126.7 224.3,129.0 228.0,130.0C231.7,131.0 235.0,132.3 238.0,132.0C241.0,131.7 243.0,130.7 246.0,128.0C249.0,125.3 253.3,120.3 256.0,116.0C258.7,111.7 260.3,107.3 262.0,102.0C263.7,96.7 264.7,90.3 266.0,84.0C267.3,77.7 268.0,69.7 270.0,64.0C272.0,58.3 274.7,52.0 278.0,50.0C281.3,48.0 287.0,52.0 290.0,52.0C293.0,52.0 293.0,50.7 296.0,50.0C299.0,49.3 304.0,39.7 308.0,48.0C312.0,56.3 324.7,73.0 320.0,100.0C315.3,127.0 306.7,191.7 280.0,210.0C253.3,228.3 181.3,210.7 160.0,210.0C138.7,209.3 153.8,209.0 152.0,206.0C150.2,203.0 149.8,197.0 149.0,192.0C148.2,187.0 147.3,183.0 147.0,176.0C146.7,169.0 146.3,158.3 147.0,150.0Z" fill="#c9c9c9"/>
<path d="M146.0,208.0C124.0,204.7 147.0,195.3 148.0,190.0C149.0,184.7 151.5,180.1 152.0,176.0C152.5,171.9 148.5,169.2 150.8,165.4C153.1,161.6 161.6,155.9 165.7,153.0C169.8,150.1 170.6,149.2 175.6,148.0C180.6,146.8 190.1,145.2 195.5,145.6C200.9,146.0 204.6,150.5 207.9,150.5C211.2,150.5 212.4,146.0 215.3,145.6C218.2,145.2 221.9,146.3 225.2,148.0C228.5,149.7 231.9,154.7 235.2,155.5C238.5,156.3 242.5,155.9 245.0,153.0C247.5,150.1 248.3,142.1 250.0,138.0C251.7,133.9 252.5,131.5 255.0,128.2C257.5,124.9 261.7,121.6 265.0,118.3C268.3,115.0 270.7,111.5 274.9,108.4C279.1,105.4 285.8,93.1 290.0,100.0C294.2,106.9 301.7,131.7 300.0,150.0C298.3,168.3 305.7,200.3 280.0,210.0C254.3,219.7 168.0,211.3 146.0,208.0Z" fill="#efefef"/>
<path d="M12.8,23.8C16.4,21.1 31.2,22.3 35.0,23.8C38.9,25.2 36.4,29.1 35.8,32.5C35.2,35.9 33.1,40.8 31.4,44.2C29.7,47.6 26.9,49.8 25.5,53.0C24.2,56.1 24.0,59.8 23.4,63.2C22.7,66.6 20.9,70.7 21.9,73.4C22.9,76.1 28.2,75.6 29.2,79.2C30.2,82.8 32.2,92.4 27.7,95.0C23.2,97.6 6.3,97.1 2.2,95.0C-1.9,92.9 2.4,85.8 2.9,82.2C3.5,78.6 5.0,76.3 5.5,73.4C6.1,70.5 5.3,68.3 6.1,64.6C7.0,61.0 9.3,55.6 10.5,51.5C11.7,47.4 13.0,44.4 13.4,39.8C13.8,35.2 9.2,26.4 12.8,23.8Z" fill="#797979"/>
<path d="M59.0,120.0C63.5,118.3 72.5,118.3 77.0,120.0C81.5,121.7 84.5,125.0 86.0,130.0C87.5,135.0 87.5,145.0 86.0,150.0C84.5,155.0 81.5,158.3 77.0,160.0C72.5,161.7 63.5,161.7 59.0,160.0C54.5,158.3 51.5,155.0 50.0,150.0C48.5,145.0 48.5,135.0 50.0,130.0C51.5,125.0 54.5,121.7 59.0,120.0Z" fill="#3d3d3d"/>
</g>
<path d="M208.0,84.0C208.7,78.3 208.0,69.3 212.0,66.0C216.0,62.7 228.0,61.7 232.0,64.0C236.0,66.3 236.7,76.3 236.0,80.0C235.3,83.7 229.7,82.7 228.0,86.0C226.3,89.3 228.3,96.7 226.0,100.0C223.7,103.3 217.0,106.0 214.0,106.0C211.0,106.0 209.0,103.7 208.0,100.0C207.0,96.3 207.3,89.7 208.0,84.0Z" fill="#969696"/>
<path d="M203.0,132.0C203.7,129.2 208.8,123.0 212.0,120.0C215.2,117.0 219.7,114.3 222.0,114.0C224.3,113.7 227.0,115.7 226.0,118.0C225.0,120.3 219.0,124.8 216.0,128.0C213.0,131.2 210.2,136.3 208.0,137.0C205.8,137.7 202.3,134.8 203.0,132.0Z" fill="#efefef"/>
<path d="M172.4,91.6C174.6,91.3 178.9,91.3 181.1,91.6C183.3,91.9 184.8,92.5 185.5,93.4C186.2,94.4 186.2,96.2 185.5,97.2C184.8,98.1 183.3,98.7 181.1,99.0C178.9,99.3 174.6,99.3 172.4,99.0C170.2,98.7 168.7,98.1 168.0,97.2C167.3,96.2 167.3,94.4 168.0,93.4C168.7,92.5 170.2,91.9 172.4,91.6Z" fill="#efefef"/>
<path d="M153.7,110.8C155.7,110.3 159.7,110.3 161.8,110.8C163.8,111.3 165.1,112.4 165.8,113.9C166.5,115.5 166.5,118.6 165.8,120.2C165.1,121.7 163.8,122.8 161.8,123.3C159.7,123.8 155.7,123.8 153.7,123.3C151.6,122.8 150.3,121.7 149.6,120.2C148.9,118.6 148.9,115.5 149.6,113.9C150.3,112.4 151.6,111.3 153.7,110.8Z" fill="#efefef"/>
<path d="M272.0,88.0C272.9,82.6 277.7,80.3 280.0,76.0C282.3,71.7 284.0,64.7 286.0,62.0C288.0,59.3 291.0,58.7 292.0,60.0C293.0,61.3 293.0,66.7 292.0,70.0C291.0,73.3 286.3,75.0 286.0,80.0C285.7,85.0 291.9,95.3 290.0,100.0C288.1,104.7 277.9,110.4 274.9,108.4C271.9,106.4 271.1,93.4 272.0,88.0Z" fill="#efefef"/>
<path d="M271.1,47.0C273.0,46.0 276.7,46.0 278.6,47.0C280.4,48.0 281.7,50.1 282.3,53.2C282.9,56.4 282.9,62.6 282.3,65.8C281.7,68.9 280.4,71.0 278.6,72.0C276.7,73.0 273.0,73.0 271.1,72.0C269.3,71.0 268.0,68.9 267.4,65.8C266.8,62.6 266.8,56.4 267.4,53.2C268.0,50.1 269.3,48.0 271.1,47.0Z" fill="#bfbfbf"/>
<path d="M283.8,45.0C285.1,44.4 287.9,44.4 289.2,45.0C290.6,45.6 291.5,46.9 292.0,48.8C292.5,50.6 292.5,54.4 292.0,56.2C291.5,58.1 290.6,59.4 289.2,60.0C287.9,60.6 285.1,60.6 283.8,60.0C282.4,59.4 281.5,58.1 281.0,56.2C280.5,54.4 280.5,50.6 281.0,48.8C281.5,46.9 282.4,45.6 283.8,45.0Z" fill="#9f9f9f"/>
<path d="M296.0,36.0C298.0,34.2 303.0,32.7 306.0,33.0C309.0,33.3 313.7,35.8 314.0,38.0C314.3,40.2 310.7,44.0 308.0,46.0C305.3,48.0 300.3,50.3 298.0,50.0C295.7,49.7 294.3,46.3 294.0,44.0C293.7,41.7 294.0,37.8 296.0,36.0Z" fill="#9c9c9c"/>
<path d="M284.0,60.0C286.3,55.3 294.7,50.3 298.0,48.0C301.3,45.7 303.7,44.0 304.0,46.0C304.3,48.0 301.3,56.0 300.0,60.0C298.7,64.0 298.7,67.3 296.0,70.0C293.3,72.7 286.0,77.7 284.0,76.0C282.0,74.3 281.7,64.7 284.0,60.0Z" fill="#cfcfcf"/>
<path d="M170.0,60.5C172.2,60.1 176.5,60.1 178.7,60.5C180.8,60.9 182.3,61.8 183.0,63.0C183.7,64.2 183.7,66.8 183.0,68.0C182.3,69.2 180.8,70.1 178.7,70.5C176.5,70.9 172.2,70.9 170.0,70.5C167.9,70.1 166.4,69.2 165.7,68.0C165.0,66.8 165.0,64.2 165.7,63.0C166.4,61.8 167.9,60.9 170.0,60.5Z" fill="#c9c9c9"/>
<path d="M194.2,68.0C196.1,67.7 199.8,67.7 201.7,68.0C203.5,68.3 204.8,68.9 205.4,69.8C206.0,70.8 206.0,72.6 205.4,73.6C204.8,74.5 203.5,75.1 201.7,75.4C199.8,75.7 196.1,75.7 194.2,75.4C192.4,75.1 191.1,74.5 190.5,73.6C189.9,72.6 189.9,70.8 190.5,69.8C191.1,68.9 192.4,68.3 194.2,68.0Z" fill="#c9c9c9"/>
<path d="M195.0,84.0C197.5,82.9 202.5,82.9 205.0,84.0C207.5,85.1 209.2,87.2 210.0,90.5C210.8,93.8 210.8,100.2 210.0,103.5C209.2,106.8 207.5,108.9 205.0,110.0C202.5,111.1 197.5,111.1 195.0,110.0C192.5,108.9 190.8,106.8 190.0,103.5C189.2,100.2 189.2,93.8 190.0,90.5C190.8,87.2 192.5,85.1 195.0,84.0Z" fill="#afafaf"/>
<path d="M158.2,33.0C162.0,32.3 169.4,32.3 173.2,33.0C176.9,33.7 179.4,35.2 180.6,37.4C181.8,39.6 181.8,44.0 180.6,46.2C179.4,48.4 176.9,49.9 173.2,50.6C169.4,51.3 162.0,51.3 158.2,50.6C154.5,49.9 152.0,48.4 150.8,46.2C149.6,44.0 149.6,39.6 150.8,37.4C152.0,35.2 154.5,33.7 158.2,33.0Z" fill="#636363"/>
<path d="M188.0,55.6C190.5,55.1 195.5,55.1 198.0,55.6C200.5,56.1 202.2,57.2 203.0,58.7C203.8,60.2 203.8,63.4 203.0,64.9C202.2,66.5 200.5,67.5 198.0,68.0C195.5,68.5 190.5,68.5 188.0,68.0C185.5,67.5 183.8,66.5 183.0,64.9C182.2,63.4 182.2,60.2 183.0,58.7C183.8,57.2 185.5,56.1 188.0,55.6Z" fill="#696969"/>
<path d="M186.0,40.0C191.7,39.0 217.3,40.3 224.0,42.0C230.7,43.7 227.7,48.0 226.0,50.0C224.3,52.0 217.3,54.0 214.0,54.0C210.7,54.0 210.0,51.0 206.0,50.0C202.0,49.0 193.3,49.7 190.0,48.0C186.7,46.3 180.3,41.0 186.0,40.0Z" fill="#606060"/>
<path d="M219.5,50.0C221.6,49.3 225.7,49.3 227.8,50.0C229.9,50.7 231.3,52.0 232.0,54.0C232.7,56.0 232.7,60.0 232.0,62.0C231.3,64.0 229.9,65.3 227.8,66.0C225.7,66.7 221.6,66.7 219.5,66.0C217.4,65.3 216.0,64.0 215.3,62.0C214.6,60.0 214.6,56.0 215.3,54.0C216.0,52.0 217.4,50.7 219.5,50.0Z" fill="#636363"/>
<path d="M233.3,83.0C236.1,82.4 241.6,82.4 244.4,83.0C247.2,83.6 249.1,84.9 250.0,86.7C250.9,88.5 250.9,92.2 250.0,94.1C249.1,95.9 247.2,97.2 244.4,97.8C241.6,98.4 236.1,98.4 233.3,97.8C230.5,97.2 228.6,95.9 227.7,94.1C226.8,92.2 226.8,88.5 227.7,86.7C228.6,84.9 230.5,83.6 233.3,83.0Z" fill="#636363"/>
<path d="M256.2,63.0C258.1,62.6 261.8,62.6 263.7,63.0C265.5,63.4 266.8,64.2 267.4,65.5C268.0,66.8 268.0,69.2 267.4,70.5C266.8,71.8 265.5,72.6 263.7,73.0C261.8,73.4 258.1,73.4 256.2,73.0C254.4,72.6 253.1,71.8 252.5,70.5C251.9,69.2 251.9,66.8 252.5,65.5C253.1,64.2 254.4,63.4 256.2,63.0Z" fill="#606060"/>
<path d="M295.0,22.0C296.7,19.3 305.5,20.0 308.0,22.0C310.5,24.0 311.7,31.3 310.0,34.0C308.3,36.7 300.5,40.0 298.0,38.0C295.5,36.0 293.3,24.7 295.0,22.0Z" fill="#606060"/>
<path d="M240.1,102.7C242.6,102.2 247.6,102.2 250.1,102.7C252.5,103.2 254.2,104.2 255.0,105.8C255.8,107.3 255.8,110.4 255.0,111.9C254.2,113.5 252.5,114.5 250.1,115.0C247.6,115.5 242.6,115.5 240.1,115.0C237.7,114.5 236.0,113.5 235.2,111.9C234.4,110.4 234.4,107.3 235.2,105.8C236.0,104.2 237.7,103.2 240.1,102.7Z" fill="#636363"/>
<path d="M13.1,24.1C14.1,21.6 18.5,23.6 19.7,25.2C20.9,26.9 20.8,30.8 20.4,34.0C20.1,37.1 18.2,41.0 17.5,44.2C16.8,47.4 16.7,49.8 16.1,53.0C15.5,56.1 14.6,59.8 13.9,63.2C13.1,66.6 12.5,71.2 11.7,73.4C10.8,75.6 9.7,76.3 8.8,76.3C7.8,76.3 6.2,75.3 5.8,73.4C5.5,71.4 5.7,68.3 6.6,64.6C7.4,61.0 9.7,55.6 10.9,51.5C12.2,47.4 13.5,44.4 13.9,39.8C14.2,35.2 12.2,26.5 13.1,24.1Z" fill="#b9b9b9"/>
<path d="M13.6,24.6C14.6,23.8 18.9,24.2 20.0,25.5C21.1,26.8 21.1,31.2 20.4,32.5C19.8,33.9 17.2,34.1 16.1,33.7C15.0,33.3 14.3,31.8 13.9,30.3C13.5,28.8 12.6,25.4 13.6,24.6Z" fill="#efefef"/>
<path d="M14.6,27.0C15.3,26.3 18.5,27.0 19.3,27.8C20.0,28.7 19.6,31.5 19.0,32.2C18.3,32.9 16.1,32.8 15.3,31.9C14.6,31.1 13.9,27.7 14.6,27.0Z" fill="#efefef"/>
<path d="M13.1,40.1C13.9,39.2 15.8,39.5 16.4,41.0C16.9,42.4 17.1,47.4 16.6,48.9C16.2,50.3 14.4,50.2 13.6,49.7C12.8,49.3 12.0,48.0 12.0,46.4C11.9,44.8 12.4,41.0 13.1,40.1Z" fill="#efefef"/>
<path d="M26.0,22.6C27.4,21.6 32.7,22.3 34.2,23.8C35.7,25.2 35.4,28.8 35.0,31.1C34.6,33.3 32.8,35.0 31.8,37.2C30.8,39.4 30.3,42.9 28.9,44.5C27.5,46.1 24.8,47.1 23.4,46.8C21.9,46.5 20.2,44.4 20.1,42.7C20.1,41.1 22.2,39.1 23.1,36.9C23.9,34.7 24.9,32.0 25.4,29.6C25.9,27.2 24.5,23.6 26.0,22.6Z" fill="#efefef"/>
<path d="M20.1,46.4C21.1,45.4 24.5,45.0 25.1,47.1C25.7,49.2 24.3,54.9 23.6,58.8C23.0,62.7 22.4,68.0 21.3,70.5C20.2,72.9 17.8,74.6 17.2,73.4C16.7,72.2 17.7,66.6 18.1,63.2C18.5,59.8 19.2,55.8 19.6,53.0C19.9,50.2 19.2,47.4 20.1,46.4Z" fill="#b9b9b9"/>
<path d="M5.3,63.2C5.9,61.7 8.2,62.6 9.1,64.3C9.9,66.0 10.7,71.1 10.5,73.4C10.4,75.7 9.1,78.1 8.2,78.1C7.3,78.1 5.5,75.9 5.0,73.4C4.5,70.9 4.6,64.7 5.3,63.2Z" fill="#efefef"/>
<path d="M5.5,65.4C5.9,64.3 7.7,65.0 8.2,66.1C8.6,67.2 8.6,71.2 8.2,72.2C7.8,73.2 6.3,73.4 5.8,72.2C5.4,71.1 5.2,66.4 5.5,65.4Z" fill="#efefef"/>
<path d="M17.2,50.0C18.0,49.8 19.8,50.8 19.9,53.0C20.0,55.1 18.7,60.3 17.8,63.2C16.9,66.1 15.3,70.5 14.6,70.5C13.9,70.5 13.5,65.9 13.6,63.2C13.7,60.5 14.6,56.6 15.2,54.4C15.8,52.2 16.4,50.3 17.2,50.0Z" fill="#595959"/>
<path d="M53.3,27.4C53.9,25.9 56.8,25.3 58.4,28.1C60.0,30.9 62.8,41.3 62.8,44.2C62.8,47.1 59.7,46.9 58.4,45.7C57.1,44.4 55.6,39.9 54.7,36.9C53.9,33.9 52.7,28.9 53.3,27.4Z" fill="#595959"/>
<path d="M52.6,54.4C53.9,53.4 59.1,54.2 61.3,55.9C63.5,57.6 66.2,62.4 65.7,64.6C65.2,66.8 60.5,69.5 58.4,69.0C56.3,68.5 54.3,64.1 53.3,61.7C52.3,59.3 51.2,55.4 52.6,54.4Z" fill="#595959"/>
<path d="M55.5,57.3C56.1,56.4 60.2,57.6 61.3,58.8C62.4,60.0 62.7,63.7 62.0,64.6C61.4,65.6 58.8,65.9 57.7,64.6C56.6,63.4 54.9,58.3 55.5,57.3Z" fill="#797979"/>
<path d="M57.7,28.1C60.8,27.2 78.2,27.4 81.8,29.6C85.3,31.8 81.0,39.6 78.8,41.3C76.6,43.0 71.3,40.8 68.6,39.8C65.9,38.8 64.6,37.4 62.8,35.4C60.9,33.5 54.5,29.1 57.7,28.1Z" fill="#595959"/>
<path d="M68.6,28.9C69.6,27.7 75.2,28.0 75.9,29.6C76.6,31.2 74.0,37.1 73.0,38.4C72.0,39.6 70.8,38.5 70.1,36.9C69.3,35.3 67.6,30.1 68.6,28.9Z" fill="#797979"/>
<path d="M86.1,71.9C87.1,71.7 92.3,73.6 93.4,74.9C94.5,76.1 93.7,79.0 92.7,79.2C91.7,79.5 88.7,77.5 87.6,76.3C86.5,75.1 85.2,72.2 86.1,71.9Z" fill="#595959"/>
<path d="M54.0,128.8C55.7,127.1 61.1,125.4 65.7,127.3C70.3,129.3 77.1,137.3 81.8,140.5C86.4,143.6 91.2,144.1 93.4,146.3C95.6,148.5 96.8,151.2 94.9,153.6C92.9,156.0 86.1,160.4 81.8,160.9C77.4,161.4 71.5,159.0 68.6,156.5C65.7,154.1 66.4,149.5 64.2,146.3C62.0,143.2 57.2,140.5 55.5,137.6C53.8,134.6 52.3,130.5 54.0,128.8Z" fill="#595959"/>
<path d="M61.3,133.2C62.3,132.4 67.2,132.9 70.1,134.6C73.0,136.3 78.3,141.4 78.8,143.4C79.3,145.3 75.4,147.0 73.0,146.3C70.6,145.6 66.2,141.2 64.2,139.0C62.3,136.8 60.3,133.9 61.3,133.2Z" fill="#797979"/>
<path d="M62.8,111.3C64.2,110.6 71.4,109.5 73.0,109.8C74.6,110.1 73.7,112.4 72.3,113.0C70.8,113.7 65.8,113.9 64.2,113.6C62.7,113.3 61.3,111.9 62.8,111.3Z" fill="#595959"/>
<path d="M90.5,109.8C91.8,108.4 98.4,107.1 100.0,108.4C101.6,109.6 101.3,115.7 100.0,117.1C98.7,118.6 93.6,118.3 92.0,117.1C90.4,115.9 89.2,111.3 90.5,109.8Z" fill="#595959"/>
<path d="M111.1,136.9C112.3,136.4 117.4,137.4 118.4,138.4C119.4,139.3 118.2,142.3 116.9,142.7C115.7,143.2 112.1,142.3 111.1,141.3C110.1,140.3 109.9,137.4 111.1,136.9Z" fill="#797979"/>
<path d="M102.8,146.8C103.2,145.8 105.1,146.2 105.5,147.6C106.0,148.9 106.0,153.6 105.5,154.7C105.1,155.8 103.2,155.3 102.8,154.0C102.3,152.7 102.3,147.9 102.8,146.8Z" fill="#797979"/>
<path d="M8.8,74.1C9.7,72.2 17.8,72.2 19.7,74.1C21.7,75.9 20.1,81.2 20.4,85.0C20.8,88.8 20.7,91.8 21.9,96.7C23.1,101.5 26.5,109.1 27.7,114.2C29.0,119.3 29.9,124.2 29.2,127.3C28.5,130.5 25.5,132.9 23.4,133.2C21.2,133.4 17.5,133.4 16.1,128.8C14.6,124.2 15.0,112.7 14.6,105.4C14.2,98.1 14.8,90.2 13.9,85.0C12.9,79.8 7.8,75.9 8.8,74.1Z" fill="#707070"/>
<path d="M1.8,74.1C3.2,72.2 8.9,71.8 10.9,73.6C13.0,75.4 13.3,81.6 13.9,85.0C14.5,88.4 14.6,90.8 14.6,93.8C14.6,96.7 14.5,100.6 13.9,102.5C13.3,104.5 11.9,105.4 10.9,105.4C10.0,105.4 9.0,104.2 8.0,102.5C7.1,100.8 6.1,98.1 5.1,95.2C4.2,92.3 2.9,88.5 2.3,85.0C1.8,81.5 0.3,75.9 1.8,74.1Z" fill="#e2e2e2"/>
<path d="M16.4,78.4C17.0,75.6 21.7,76.6 23.4,78.4C25.1,80.3 25.5,85.9 26.6,89.4C27.6,92.9 28.3,96.2 29.5,99.6C30.7,103.0 32.7,106.4 33.6,109.8C34.4,113.2 35.2,117.2 34.6,120.0C34.0,122.9 31.5,127.3 30.2,127.0C29.0,126.8 28.2,121.9 27.0,118.6C25.9,115.2 24.6,110.8 23.4,106.9C22.1,103.0 20.9,100.0 19.7,95.2C18.5,90.5 15.7,81.2 16.4,78.4Z" fill="#efefef"/>
<path d="M21.9,90.8C22.2,89.4 24.8,91.8 26.0,93.8C27.2,95.7 28.2,99.1 29.2,102.5C30.2,105.9 31.7,111.3 31.8,114.2C31.9,117.1 30.7,120.3 29.9,120.0C29.1,119.8 28.0,115.7 27.0,112.7C26.0,109.8 24.9,106.2 24.1,102.5C23.2,98.9 21.6,92.3 21.9,90.8Z" fill="#ffffff"/>
<path d="M14.6,105.4C15.0,102.3 17.9,101.8 19.7,104.0C21.5,106.2 24.3,114.4 25.5,118.6C26.8,122.7 27.6,126.6 27.0,128.8C26.4,131.0 23.5,132.7 21.9,131.7C20.3,130.7 18.7,127.3 17.5,123.0C16.3,118.6 14.2,108.6 14.6,105.4Z" fill="#505050"/>
<path d="M8.5,103.7C9.0,102.2 12.2,103.2 13.9,106.9C15.5,110.6 18.0,122.2 18.2,125.9C18.5,129.5 16.6,130.5 15.3,128.8C14.0,127.1 11.7,119.8 10.5,115.7C9.4,111.5 7.9,105.1 8.5,103.7Z" fill="#c2c2c2"/>
<path d="M15.3,125.9C16.7,125.4 21.8,126.7 24.1,127.6C26.4,128.6 26.8,130.1 29.2,131.4C31.6,132.7 36.5,133.4 38.7,135.4C40.9,137.4 42.4,141.3 42.3,143.4C42.3,145.5 39.9,147.6 38.5,148.1C37.2,148.6 35.3,147.8 34.3,146.3C33.4,144.8 34.9,141.2 32.8,139.0C30.8,136.8 24.7,134.6 21.9,133.2C19.1,131.8 17.2,131.8 16.1,130.5C15.0,129.3 14.0,126.4 15.3,125.9Z" fill="#969696"/>
<path d="M15.8,126.3C17.1,125.9 21.8,126.8 24.1,127.6C26.3,128.5 26.8,130.1 29.2,131.4C31.6,132.7 36.6,134.2 38.2,135.4C39.9,136.5 40.3,138.4 39.1,138.4C37.9,138.5 33.8,136.5 30.9,135.5C28.1,134.5 24.3,133.2 21.9,132.3C19.5,131.4 17.4,130.8 16.4,129.8C15.3,128.8 14.5,126.7 15.8,126.3Z" fill="#fcfcfc"/>
<path d="M33.5,50.0C36.2,49.0 41.8,49.0 44.5,50.0C47.2,51.0 49.1,53.0 50.0,56.0C50.9,59.0 50.9,65.0 50.0,68.0C49.1,71.0 47.2,73.0 44.5,74.0C41.8,75.0 36.2,75.0 33.5,74.0C30.8,73.0 28.9,71.0 28.0,68.0C27.1,65.0 27.1,59.0 28.0,56.0C28.9,53.0 30.8,51.0 33.5,50.0Z" fill="#2d2d2d"/>
<path d="M12.0,38.0C13.3,36.3 16.6,39.2 17.0,42.0C17.4,44.8 15.4,50.7 14.5,55.0C13.6,59.3 12.2,63.8 11.5,68.0C10.8,72.2 11.2,77.3 10.0,80.0C8.8,82.7 5.2,85.0 4.0,84.0C2.8,83.0 2.8,77.3 3.0,74.0C3.2,70.7 4.0,67.7 5.0,64.0C6.0,60.3 7.8,56.3 9.0,52.0C10.2,47.7 10.7,39.7 12.0,38.0Z" fill="#fcfcfc"/>
<path d="M54.0,130.0C55.2,128.0 58.7,125.3 62.0,126.0C65.3,126.7 70.3,130.7 74.0,134.0C77.7,137.3 82.0,142.7 84.0,146.0C86.0,149.3 87.3,153.0 86.0,154.0C84.7,155.0 79.7,153.7 76.0,152.0C72.3,150.3 67.5,146.3 64.0,144.0C60.5,141.7 56.7,140.3 55.0,138.0C53.3,135.7 52.8,132.0 54.0,130.0Z" fill="#6c6c6c"/>
<path d="M62.0,134.0C62.7,133.3 68.0,134.7 70.0,136.0C72.0,137.3 74.7,141.3 74.0,142.0C73.3,142.7 68.0,141.3 66.0,140.0C64.0,138.7 61.3,134.7 62.0,134.0Z" fill="#969696"/>
<path d="M106.9,128.0C109.1,126.8 113.4,126.8 115.6,128.0C117.8,129.2 119.3,131.8 120.0,135.5C120.7,139.2 120.7,146.8 120.0,150.5C119.3,154.2 117.8,156.8 115.6,158.0C113.4,159.2 109.1,159.2 106.9,158.0C104.7,156.8 103.2,154.2 102.5,150.5C101.8,146.8 101.8,139.2 102.5,135.5C103.2,131.8 104.7,129.2 106.9,128.0Z" fill="#5c5c5c"/>
<path d="M57.2,45.7C59.4,44.5 63.7,44.5 65.9,45.7C68.0,46.9 69.5,49.4 70.2,53.1C70.9,56.8 70.9,64.3 70.2,68.0C69.5,71.7 68.0,74.2 65.9,75.4C63.7,76.6 59.4,76.6 57.2,75.4C55.1,74.2 53.6,71.7 52.9,68.0C52.2,64.3 52.2,56.8 52.9,53.1C53.6,49.4 55.1,46.9 57.2,45.7Z" fill="#636363"/>
<path d="M115.0,95.3C117.4,94.1 122.4,94.1 124.9,95.3C127.3,96.5 129.0,98.8 129.8,102.3C130.6,105.8 130.6,112.8 129.8,116.3C129.0,119.8 127.3,122.1 124.9,123.3C122.4,124.5 117.4,124.5 115.0,123.3C112.5,122.1 110.8,119.8 110.0,116.3C109.2,112.8 109.2,105.8 110.0,102.3C110.8,98.8 112.5,96.5 115.0,95.3Z" fill="#5c5c5c"/>
<path d="M95.5,33.0C98.2,32.3 103.8,32.3 106.5,33.0C109.2,33.7 111.1,35.1 112.0,37.2C112.9,39.4 112.9,43.6 112.0,45.8C111.1,47.9 109.2,49.3 106.5,50.0C103.8,50.7 98.2,50.7 95.5,50.0C92.8,49.3 90.9,47.9 90.0,45.8C89.1,43.6 89.1,39.4 90.0,37.2C90.9,35.1 92.8,33.7 95.5,33.0Z" fill="#696969"/>
</g></g></g>
<use href="#borders" transform="translate(9.2,231.6)"/>
<use href="#us" transform="translate(9.2,231.6)" fill="none" stroke="#33332c" stroke-width="0.75" stroke-opacity="0.9" stroke-linejoin="round"/>
<g clip-path="url(#clipC)"><g filter="url(#fC)"><g transform="translate(341,4.2)"><g filter="url(#zb)">
<rect x="-20" y="-5" width="360" height="235" fill="#0e0e0e"/>
<path d="M71.0,24.0C78.8,21.5 110.3,23.7 118.0,30.0C125.7,36.3 117.3,52.3 117.0,62.0C116.7,71.7 119.2,84.2 116.0,88.0C112.8,91.8 101.0,89.3 98.0,85.0C95.0,80.7 101.0,66.5 98.0,62.0C95.0,57.5 84.5,60.8 80.0,58.0C75.5,55.2 72.5,50.7 71.0,45.0C69.5,39.3 63.2,26.5 71.0,24.0Z" fill="#303030"/>
<path d="M116.0,88.0C112.0,88.8 108.3,91.3 106.0,95.0C103.7,98.7 102.3,105.0 102.0,110.0C101.7,115.0 103.8,118.3 104.0,125.0C104.2,131.7 103.3,143.3 103.0,150.0C102.7,156.7 100.8,159.2 102.0,165.0C103.2,170.8 105.3,181.7 110.0,185.0C114.7,188.3 126.7,200.8 130.0,185.0C133.3,169.2 132.3,106.2 130.0,90.0C127.7,73.8 120.0,87.2 116.0,88.0Z" fill="#333333"/>
<path d="M118.0,28.0C124.0,20.0 146.7,24.7 152.0,30.0C157.3,35.3 151.3,52.0 150.0,60.0C148.7,68.0 146.0,71.3 144.0,78.0C142.0,84.7 139.7,93.0 138.0,100.0C136.3,107.0 135.7,115.3 134.0,120.0C132.3,124.7 129.3,123.0 128.0,128.0C126.7,133.0 126.3,142.7 126.0,150.0C125.7,157.3 126.3,166.7 126.0,172.0C125.7,177.3 125.3,182.0 124.0,182.0C122.7,182.0 119.3,177.3 118.0,172.0C116.7,166.7 116.3,157.7 116.0,150.0C115.7,142.3 114.7,131.3 116.0,126.0C117.3,120.7 122.3,122.3 124.0,118.0C125.7,113.7 126.3,104.7 126.0,100.0C125.7,95.3 123.7,93.7 122.0,90.0C120.3,86.3 116.7,88.3 116.0,78.0C115.3,67.7 112.0,36.0 118.0,28.0Z" fill="#505050"/>
<path d="M152.0,28.0C160.3,23.7 191.0,30.7 200.0,34.0C209.0,37.3 201.3,46.0 206.0,48.0C210.7,50.0 223.7,43.3 228.0,46.0C232.3,48.7 230.7,58.3 232.0,64.0C233.3,69.7 233.0,78.7 236.0,80.0C239.0,81.3 245.3,75.3 250.0,72.0C254.7,68.7 260.3,64.3 264.0,60.0C267.7,55.7 266.7,49.3 272.0,46.0C277.3,42.7 292.0,44.7 296.0,40.0C300.0,35.3 293.7,21.3 296.0,18.0C298.3,14.7 306.7,16.7 310.0,20.0C313.3,23.3 317.7,31.3 316.0,38.0C314.3,44.7 305.3,56.3 300.0,60.0C294.7,63.7 289.0,55.0 284.0,60.0C279.0,65.0 273.7,82.7 270.0,90.0C266.3,97.3 265.7,100.3 262.0,104.0C258.3,107.7 252.3,112.0 248.0,112.0C243.7,112.0 240.3,104.7 236.0,104.0C231.7,103.3 226.3,107.0 222.0,108.0C217.7,109.0 213.7,110.3 210.0,110.0C206.3,109.7 204.0,107.7 200.0,106.0C196.0,104.3 192.0,101.0 186.0,100.0C180.0,99.0 170.0,99.0 164.0,100.0C158.0,101.0 153.0,102.7 150.0,106.0C147.0,109.3 147.7,116.0 146.0,120.0C144.3,124.0 141.3,125.0 140.0,130.0C138.7,135.0 138.3,142.3 138.0,150.0C137.7,157.7 138.8,170.3 138.0,176.0C137.2,181.7 135.0,184.0 133.0,184.0C131.0,184.0 127.2,181.7 126.0,176.0C124.8,170.3 125.7,158.0 126.0,150.0C126.3,142.0 126.7,133.0 128.0,128.0C129.3,123.0 132.3,124.7 134.0,120.0C135.7,115.3 136.3,107.0 138.0,100.0C139.7,93.0 142.0,84.7 144.0,78.0C146.0,71.3 148.7,68.3 150.0,60.0C151.3,51.7 143.7,32.3 152.0,28.0Z" fill="#767676"/>
<path d="M150.0,106.0C153.0,102.7 158.0,101.0 164.0,100.0C170.0,99.0 180.0,99.0 186.0,100.0C192.0,101.0 196.0,104.3 200.0,106.0C204.0,107.7 206.3,109.7 210.0,110.0C213.7,110.3 217.7,109.0 222.0,108.0C226.3,107.0 231.7,103.3 236.0,104.0C240.3,104.7 244.3,112.0 248.0,112.0C251.7,112.0 256.5,109.3 258.0,104.0C259.5,98.7 257.0,87.3 257.0,80.0C257.0,72.7 256.5,65.3 258.0,60.0C259.5,54.7 261.7,50.7 266.0,48.0C270.3,45.3 278.3,44.7 284.0,44.0C289.7,43.3 294.0,41.3 300.0,44.0C306.0,46.7 316.7,50.7 320.0,60.0C323.3,69.3 326.7,75.0 320.0,100.0C313.3,125.0 306.7,191.7 280.0,210.0C253.3,228.3 182.0,210.7 160.0,210.0C138.0,209.3 150.8,209.0 148.0,206.0C145.2,203.0 144.7,197.0 143.0,192.0C141.3,187.0 138.8,183.0 138.0,176.0C137.2,169.0 137.7,157.7 138.0,150.0C138.3,142.3 138.7,135.0 140.0,130.0C141.3,125.0 144.3,124.0 146.0,120.0C147.7,116.0 147.0,109.3 150.0,106.0Z" fill="#999999"/>
<path d="M198.0,112.0C198.3,97.3 199.3,120.7 202.0,122.0C204.7,123.3 210.0,119.3 214.0,120.0C218.0,120.7 222.0,124.0 226.0,126.0C230.0,128.0 234.3,131.7 238.0,132.0C241.7,132.3 245.0,130.3 248.0,128.0C251.0,125.7 253.3,122.0 256.0,118.0C258.7,114.0 262.0,108.7 264.0,104.0C266.0,99.3 266.3,95.7 268.0,90.0C269.7,84.3 272.0,75.3 274.0,70.0C276.0,64.7 277.7,59.3 280.0,58.0C282.3,56.7 286.3,58.3 288.0,62.0C289.7,65.7 284.7,73.7 290.0,80.0C295.3,86.3 321.7,78.3 320.0,100.0C318.3,121.7 300.0,191.7 280.0,210.0C260.0,228.3 213.7,226.3 200.0,210.0C186.3,193.7 197.7,126.7 198.0,112.0Z" fill="#a6a6a6"/>
<path d="M150.0,124.0C151.3,117.7 154.3,115.0 158.0,112.0C161.7,109.0 167.3,107.3 172.0,106.0C176.7,104.7 181.7,103.3 186.0,104.0C190.3,104.7 195.0,107.3 198.0,110.0C201.0,112.7 202.3,115.8 204.0,120.0C205.7,124.2 206.3,130.0 208.0,135.0C209.7,140.0 212.0,144.2 214.0,150.0C216.0,155.8 229.0,160.0 220.0,170.0C211.0,180.0 171.7,204.0 160.0,210.0C148.3,216.0 152.2,209.0 150.0,206.0C147.8,203.0 147.0,196.7 147.0,192.0C147.0,187.3 149.5,185.0 150.0,178.0C150.5,171.0 150.0,159.0 150.0,150.0C150.0,141.0 148.7,130.3 150.0,124.0Z" fill="#b9b9b9"/>
<path d="M149.0,208.0C127.3,205.0 148.8,197.0 150.0,192.0C151.2,187.0 155.7,182.0 156.0,178.0C156.3,174.0 151.7,171.0 152.0,168.0C152.3,165.0 155.3,162.0 158.0,160.0C160.7,158.0 164.7,157.7 168.0,156.0C171.3,154.3 174.3,151.7 178.0,150.0C181.7,148.3 186.7,146.0 190.0,146.0C193.3,146.0 196.0,148.0 198.0,150.0C200.0,152.0 199.3,157.0 202.0,158.0C204.7,159.0 210.0,156.7 214.0,156.0C218.0,155.3 222.3,154.0 226.0,154.0C229.7,154.0 232.7,155.3 236.0,156.0C239.3,156.7 243.0,159.0 246.0,158.0C249.0,157.0 252.3,153.3 254.0,150.0C255.7,146.7 254.7,142.3 256.0,138.0C257.3,133.7 260.3,129.0 262.0,124.0C263.7,119.0 264.7,113.3 266.0,108.0C267.3,102.7 268.3,98.0 270.0,92.0C271.7,86.0 274.0,77.3 276.0,72.0C278.0,66.7 280.2,61.0 282.0,60.0C283.8,59.0 286.0,62.7 287.0,66.0C288.0,69.3 282.5,74.3 288.0,80.0C293.5,85.7 321.3,78.3 320.0,100.0C318.7,121.7 308.5,192.0 280.0,210.0C251.5,228.0 170.7,211.0 149.0,208.0Z" fill="#d6d6d6"/>
<path d="M148.0,172.0C149.0,170.7 153.3,171.5 156.0,170.0C158.7,168.5 160.7,165.7 164.0,163.0C167.3,160.3 171.8,156.2 176.0,154.0C180.2,151.8 185.7,150.0 189.0,150.0C192.3,150.0 193.5,151.8 196.0,154.0C198.5,156.2 200.3,162.0 204.0,163.0C207.7,164.0 213.5,160.7 218.0,160.0C222.5,159.3 226.8,158.5 231.0,159.0C235.2,159.5 239.8,162.8 243.0,163.0C246.2,163.2 247.5,159.5 250.0,160.0C252.5,160.5 256.0,163.5 258.0,166.0C260.0,168.5 263.3,172.7 262.0,175.0C260.7,177.3 253.7,180.8 250.0,180.0C246.3,179.2 248.3,169.2 240.0,170.0C231.7,170.8 211.7,182.5 200.0,185.0C188.3,187.5 176.7,184.2 170.0,185.0C163.3,185.8 161.7,185.8 160.0,190.0C158.3,194.2 161.7,206.7 160.0,210.0C158.3,213.3 150.7,213.3 150.0,210.0C149.3,206.7 154.7,194.7 156.0,190.0C157.3,185.3 159.0,184.0 158.0,182.0C157.0,180.0 151.7,179.7 150.0,178.0C148.3,176.3 147.0,173.3 148.0,172.0Z" fill="#efefef"/>
<path d="M12.8,23.8C16.4,21.1 31.2,22.3 35.0,23.8C38.9,25.2 36.4,29.1 35.8,32.5C35.2,35.9 33.1,40.8 31.4,44.2C29.7,47.6 26.9,49.8 25.5,53.0C24.2,56.1 24.0,59.8 23.4,63.2C22.7,66.6 20.9,70.7 21.9,73.4C22.9,76.1 28.2,75.6 29.2,79.2C30.2,82.8 32.2,92.4 27.7,95.0C23.2,97.6 6.3,97.1 2.2,95.0C-1.9,92.9 2.4,85.8 2.9,82.2C3.5,78.6 5.0,76.3 5.5,73.4C6.1,70.5 5.3,68.3 6.1,64.6C7.0,61.0 9.3,55.6 10.5,51.5C11.7,47.4 13.0,44.4 13.4,39.8C13.8,35.2 9.2,26.4 12.8,23.8Z" fill="#696969"/>
</g>
<path d="M216.0,118.0C218.3,114.3 222.0,113.7 224.0,114.0C226.0,114.3 228.3,117.3 228.0,120.0C227.7,122.7 224.3,126.7 222.0,130.0C219.7,133.3 216.0,139.0 214.0,140.0C212.0,141.0 209.7,139.7 210.0,136.0C210.3,132.3 213.7,121.7 216.0,118.0Z" fill="#c2c2c2"/>
<path d="M226.0,140.0C227.7,136.7 233.3,132.7 236.0,132.0C238.7,131.3 242.3,133.3 242.0,136.0C241.7,138.7 236.7,145.3 234.0,148.0C231.3,150.7 227.3,153.3 226.0,152.0C224.7,150.7 224.3,143.3 226.0,140.0Z" fill="#c2c2c2"/>
<path d="M240.0,128.0C240.7,125.7 247.0,123.0 250.0,120.0C253.0,117.0 256.0,111.0 258.0,110.0C260.0,109.0 262.7,111.3 262.0,114.0C261.3,116.7 256.7,122.7 254.0,126.0C251.3,129.3 248.3,133.7 246.0,134.0C243.7,134.3 239.3,130.3 240.0,128.0Z" fill="#c2c2c2"/>
<path d="M268.0,106.0C271.3,103.3 280.3,97.7 284.0,100.0C287.7,102.3 292.3,111.7 290.0,120.0C287.7,128.3 275.7,143.7 270.0,150.0C264.3,156.3 258.7,158.0 256.0,158.0C253.3,158.0 254.5,152.5 254.0,150.0C253.5,147.5 252.3,146.7 253.0,143.0C253.7,139.3 256.2,132.5 258.0,128.0C259.8,123.5 262.3,119.7 264.0,116.0C265.7,112.3 264.7,108.7 268.0,106.0Z" fill="#efefef"/>
<path d="M262.0,172.0C264.0,173.5 268.3,181.0 270.0,185.0C271.7,189.0 272.7,194.2 272.0,196.0C271.3,197.8 267.3,197.8 266.0,196.0C264.7,194.2 265.3,188.3 264.0,185.0C262.7,181.7 258.3,178.2 258.0,176.0C257.7,173.8 260.0,170.5 262.0,172.0Z" fill="#efefef"/>
<path d="M279.0,80.0C280.0,76.3 282.2,75.3 283.0,78.0C283.8,80.7 284.3,91.7 284.0,96.0C283.7,100.3 282.2,103.3 281.0,104.0C279.8,104.7 277.3,104.0 277.0,100.0C276.7,96.0 278.0,83.7 279.0,80.0Z" fill="#efefef"/>
<path d="M256.0,180.0C256.8,178.7 260.5,177.3 262.0,178.0C263.5,178.7 264.7,181.7 265.0,184.0C265.3,186.3 264.8,191.0 264.0,192.0C263.2,193.0 261.2,191.0 260.0,190.0C258.8,189.0 257.7,187.7 257.0,186.0C256.3,184.3 255.2,181.3 256.0,180.0Z" fill="#bfbfbf"/>
<path d="M159.0,53.0C162.5,49.3 173.2,50.5 181.0,50.0C188.8,49.5 201.8,47.3 206.0,50.0C210.2,52.7 207.7,62.0 206.0,66.0C204.3,70.0 200.2,73.0 196.0,74.0C191.8,75.0 187.0,72.3 181.0,72.0C175.0,71.7 163.7,75.2 160.0,72.0C156.3,68.8 155.5,56.7 159.0,53.0Z" fill="#898989"/>
<path d="M160.0,74.0C163.7,71.0 183.0,71.0 188.0,74.0C193.0,77.0 193.7,89.0 190.0,92.0C186.3,95.0 171.0,95.0 166.0,92.0C161.0,89.0 156.3,77.0 160.0,74.0Z" fill="#838383"/>
<path d="M170.1,92.7C172.0,92.4 175.7,92.4 177.6,92.7C179.4,93.0 180.7,93.6 181.3,94.5C181.9,95.4 181.9,97.3 181.3,98.2C180.7,99.1 179.4,99.7 177.6,100.0C175.7,100.3 172.0,100.3 170.1,100.0C168.3,99.7 167.0,99.1 166.4,98.2C165.8,97.3 165.8,95.4 166.4,94.5C167.0,93.6 168.3,93.0 170.1,92.7Z" fill="#cfcfcf"/>
<path d="M195.0,86.0C197.5,85.2 202.5,85.2 205.0,86.0C207.5,86.8 209.2,88.2 210.0,90.5C210.8,92.8 210.8,97.2 210.0,99.5C209.2,101.8 207.5,103.2 205.0,104.0C202.5,104.8 197.5,104.8 195.0,104.0C192.5,103.2 190.8,101.8 190.0,99.5C189.2,97.2 189.2,92.8 190.0,90.5C190.8,88.2 192.5,86.8 195.0,86.0Z" fill="#969696"/>
<path d="M186.0,40.0C191.7,39.0 217.3,40.3 224.0,42.0C230.7,43.7 225.3,47.3 226.0,50.0C226.7,52.7 230.0,56.7 228.0,58.0C226.0,59.3 217.7,59.3 214.0,58.0C210.3,56.7 210.0,51.7 206.0,50.0C202.0,48.3 193.3,49.7 190.0,48.0C186.7,46.3 180.3,41.0 186.0,40.0Z" fill="#505050"/>
<path d="M256.2,62.0C257.9,61.5 261.1,61.5 262.8,62.0C264.4,62.5 265.5,63.4 266.0,64.8C266.5,66.1 266.5,68.9 266.0,70.2C265.5,71.6 264.4,72.5 262.8,73.0C261.1,73.5 257.9,73.5 256.2,73.0C254.6,72.5 253.5,71.6 253.0,70.2C252.5,68.9 252.5,66.1 253.0,64.8C253.5,63.4 254.6,62.5 256.2,62.0Z" fill="#565656"/>
<path d="M236.8,100.0C238.6,99.5 242.4,99.5 244.2,100.0C246.1,100.5 247.4,101.6 248.0,103.1C248.6,104.7 248.6,107.8 248.0,109.4C247.4,110.9 246.1,112.0 244.2,112.5C242.4,113.0 238.6,113.0 236.8,112.5C234.9,112.0 233.6,110.9 233.0,109.4C232.4,107.8 232.4,104.7 233.0,103.1C233.6,101.6 234.9,100.5 236.8,100.0Z" fill="#595959"/>
<path d="M235.5,84.0C237.2,83.5 240.8,83.5 242.5,84.0C244.2,84.5 245.4,85.5 246.0,87.0C246.6,88.5 246.6,91.5 246.0,93.0C245.4,94.5 244.2,95.5 242.5,96.0C240.8,96.5 237.2,96.5 235.5,96.0C233.8,95.5 232.6,94.5 232.0,93.0C231.4,91.5 231.4,88.5 232.0,87.0C232.6,85.5 233.8,84.5 235.5,84.0Z" fill="#565656"/>
<path d="M295.0,22.0C296.7,19.7 305.5,20.3 308.0,22.0C310.5,23.7 311.7,29.7 310.0,32.0C308.3,34.3 300.5,37.7 298.0,36.0C295.5,34.3 293.3,24.3 295.0,22.0Z" fill="#505050"/>
<path d="M160.0,33.0C163.0,32.5 169.0,32.5 172.0,33.0C175.0,33.5 177.0,34.6 178.0,36.2C179.0,37.9 179.0,41.1 178.0,42.8C177.0,44.4 175.0,45.5 172.0,46.0C169.0,46.5 163.0,46.5 160.0,46.0C157.0,45.5 155.0,44.4 154.0,42.8C153.0,41.1 153.0,37.9 154.0,36.2C155.0,34.6 157.0,33.5 160.0,33.0Z" fill="#606060"/>
<path d="M236.0,118.0C236.3,115.3 242.7,109.3 246.0,106.0C249.3,102.7 253.3,99.0 256.0,98.0C258.7,97.0 262.3,97.7 262.0,100.0C261.7,102.3 257.0,108.3 254.0,112.0C251.0,115.7 247.0,121.0 244.0,122.0C241.0,123.0 235.7,120.7 236.0,118.0Z" fill="#696969"/>
<path d="M13.1,24.1C14.1,21.6 18.5,23.6 19.7,25.2C20.9,26.9 20.8,30.8 20.4,34.0C20.1,37.1 18.2,41.0 17.5,44.2C16.8,47.4 16.7,49.8 16.1,53.0C15.5,56.1 14.6,59.8 13.9,63.2C13.1,66.6 12.5,71.2 11.7,73.4C10.8,75.6 9.7,76.3 8.8,76.3C7.8,76.3 6.2,75.3 5.8,73.4C5.5,71.4 5.7,68.3 6.6,64.6C7.4,61.0 9.7,55.6 10.9,51.5C12.2,47.4 13.5,44.4 13.9,39.8C14.2,35.2 12.2,26.5 13.1,24.1Z" fill="#a9a9a9"/>
<path d="M13.6,24.6C14.6,23.8 18.9,24.2 20.0,25.5C21.1,26.8 21.1,31.2 20.4,32.5C19.8,33.9 17.2,34.1 16.1,33.7C15.0,33.3 14.3,31.8 13.9,30.3C13.5,28.8 12.6,25.4 13.6,24.6Z" fill="#e9e9e9"/>
<path d="M14.6,27.0C15.3,26.3 18.5,27.0 19.3,27.8C20.0,28.7 19.6,31.5 19.0,32.2C18.3,32.9 16.1,32.8 15.3,31.9C14.6,31.1 13.9,27.7 14.6,27.0Z" fill="#efefef"/>
<path d="M13.1,40.1C13.9,39.2 15.8,39.5 16.4,41.0C16.9,42.4 17.1,47.4 16.6,48.9C16.2,50.3 14.4,50.2 13.6,49.7C12.8,49.3 12.0,48.0 12.0,46.4C11.9,44.8 12.4,41.0 13.1,40.1Z" fill="#e9e9e9"/>
<path d="M26.0,22.6C27.4,21.6 32.7,22.3 34.2,23.8C35.7,25.2 35.4,28.8 35.0,31.1C34.6,33.3 32.8,35.0 31.8,37.2C30.8,39.4 30.3,42.9 28.9,44.5C27.5,46.1 24.8,47.1 23.4,46.8C21.9,46.5 20.2,44.4 20.1,42.7C20.1,41.1 22.2,39.1 23.1,36.9C23.9,34.7 24.9,32.0 25.4,29.6C25.9,27.2 24.5,23.6 26.0,22.6Z" fill="#e9e9e9"/>
<path d="M20.1,46.4C21.1,45.4 24.5,45.0 25.1,47.1C25.7,49.2 24.3,54.9 23.6,58.8C23.0,62.7 22.4,68.0 21.3,70.5C20.2,72.9 17.8,74.6 17.2,73.4C16.7,72.2 17.7,66.6 18.1,63.2C18.5,59.8 19.2,55.8 19.6,53.0C19.9,50.2 19.2,47.4 20.1,46.4Z" fill="#a9a9a9"/>
<path d="M5.3,63.2C5.9,61.7 8.2,62.6 9.1,64.3C9.9,66.0 10.7,71.1 10.5,73.4C10.4,75.7 9.1,78.1 8.2,78.1C7.3,78.1 5.5,75.9 5.0,73.4C4.5,70.9 4.6,64.7 5.3,63.2Z" fill="#e9e9e9"/>
<path d="M5.5,65.4C5.9,64.3 7.7,65.0 8.2,66.1C8.6,67.2 8.6,71.2 8.2,72.2C7.8,73.2 6.3,73.4 5.8,72.2C5.4,71.1 5.2,66.4 5.5,65.4Z" fill="#efefef"/>
<path d="M17.2,50.0C18.0,49.8 19.8,50.8 19.9,53.0C20.0,55.1 18.7,60.3 17.8,63.2C16.9,66.1 15.3,70.5 14.6,70.5C13.9,70.5 13.5,65.9 13.6,63.2C13.7,60.5 14.6,56.6 15.2,54.4C15.8,52.2 16.4,50.3 17.2,50.0Z" fill="#494949"/>
<path d="M53.3,27.4C53.9,25.9 56.8,25.3 58.4,28.1C60.0,30.9 62.8,41.3 62.8,44.2C62.8,47.1 59.7,46.9 58.4,45.7C57.1,44.4 55.6,39.9 54.7,36.9C53.9,33.9 52.7,28.9 53.3,27.4Z" fill="#494949"/>
<path d="M52.6,54.4C53.9,53.4 59.1,54.2 61.3,55.9C63.5,57.6 66.2,62.4 65.7,64.6C65.2,66.8 60.5,69.5 58.4,69.0C56.3,68.5 54.3,64.1 53.3,61.7C52.3,59.3 51.2,55.4 52.6,54.4Z" fill="#494949"/>
<path d="M55.5,57.3C56.1,56.4 60.2,57.6 61.3,58.8C62.4,60.0 62.7,63.7 62.0,64.6C61.4,65.6 58.8,65.9 57.7,64.6C56.6,63.4 54.9,58.3 55.5,57.3Z" fill="#696969"/>
<path d="M57.7,28.1C60.8,27.2 78.2,27.4 81.8,29.6C85.3,31.8 81.0,39.6 78.8,41.3C76.6,43.0 71.3,40.8 68.6,39.8C65.9,38.8 64.6,37.4 62.8,35.4C60.9,33.5 54.5,29.1 57.7,28.1Z" fill="#494949"/>
<path d="M68.6,28.9C69.6,27.7 75.2,28.0 75.9,29.6C76.6,31.2 74.0,37.1 73.0,38.4C72.0,39.6 70.8,38.5 70.1,36.9C69.3,35.3 67.6,30.1 68.6,28.9Z" fill="#696969"/>
<path d="M86.1,71.9C87.1,71.7 92.3,73.6 93.4,74.9C94.5,76.1 93.7,79.0 92.7,79.2C91.7,79.5 88.7,77.5 87.6,76.3C86.5,75.1 85.2,72.2 86.1,71.9Z" fill="#494949"/>
<path d="M54.0,128.8C55.7,127.1 61.1,125.4 65.7,127.3C70.3,129.3 77.1,137.3 81.8,140.5C86.4,143.6 91.2,144.1 93.4,146.3C95.6,148.5 96.8,151.2 94.9,153.6C92.9,156.0 86.1,160.4 81.8,160.9C77.4,161.4 71.5,159.0 68.6,156.5C65.7,154.1 66.4,149.5 64.2,146.3C62.0,143.2 57.2,140.5 55.5,137.6C53.8,134.6 52.3,130.5 54.0,128.8Z" fill="#494949"/>
<path d="M61.3,133.2C62.3,132.4 67.2,132.9 70.1,134.6C73.0,136.3 78.3,141.4 78.8,143.4C79.3,145.3 75.4,147.0 73.0,146.3C70.6,145.6 66.2,141.2 64.2,139.0C62.3,136.8 60.3,133.9 61.3,133.2Z" fill="#696969"/>
<path d="M62.8,111.3C64.2,110.6 71.4,109.5 73.0,109.8C74.6,110.1 73.7,112.4 72.3,113.0C70.8,113.7 65.8,113.9 64.2,113.6C62.7,113.3 61.3,111.9 62.8,111.3Z" fill="#494949"/>
<path d="M90.5,109.8C91.8,108.4 98.4,107.1 100.0,108.4C101.6,109.6 101.3,115.7 100.0,117.1C98.7,118.6 93.6,118.3 92.0,117.1C90.4,115.9 89.2,111.3 90.5,109.8Z" fill="#494949"/>
<path d="M111.1,136.9C112.3,136.4 117.4,137.4 118.4,138.4C119.4,139.3 118.2,142.3 116.9,142.7C115.7,143.2 112.1,142.3 111.1,141.3C110.1,140.3 109.9,137.4 111.1,136.9Z" fill="#696969"/>
<path d="M102.8,146.8C103.2,145.8 105.1,146.2 105.5,147.6C106.0,148.9 106.0,153.6 105.5,154.7C105.1,155.8 103.2,155.3 102.8,154.0C102.3,152.7 102.3,147.9 102.8,146.8Z" fill="#696969"/>
<path d="M8.8,74.1C9.7,72.2 17.8,72.2 19.7,74.1C21.7,75.9 20.1,81.2 20.4,85.0C20.8,88.8 20.7,91.8 21.9,96.7C23.1,101.5 26.5,109.1 27.7,114.2C29.0,119.3 29.9,124.2 29.2,127.3C28.5,130.5 25.5,132.9 23.4,133.2C21.2,133.4 17.5,133.4 16.1,128.8C14.6,124.2 15.0,112.7 14.6,105.4C14.2,98.1 14.8,90.2 13.9,85.0C12.9,79.8 7.8,75.9 8.8,74.1Z" fill="#636363"/>
<path d="M1.8,74.1C3.2,72.2 8.9,71.8 10.9,73.6C13.0,75.4 13.3,81.6 13.9,85.0C14.5,88.4 14.6,90.8 14.6,93.8C14.6,96.7 14.5,100.6 13.9,102.5C13.3,104.5 11.9,105.4 10.9,105.4C10.0,105.4 9.0,104.2 8.0,102.5C7.1,100.8 6.1,98.1 5.1,95.2C4.2,92.3 2.9,88.5 2.3,85.0C1.8,81.5 0.3,75.9 1.8,74.1Z" fill="#c2c2c2"/>
<path d="M16.4,78.4C17.0,75.6 21.7,76.6 23.4,78.4C25.1,80.3 25.5,85.9 26.6,89.4C27.6,92.9 28.3,96.2 29.5,99.6C30.7,103.0 32.7,106.4 33.6,109.8C34.4,113.2 35.2,117.2 34.6,120.0C34.0,122.9 31.5,127.3 30.2,127.0C29.0,126.8 28.2,121.9 27.0,118.6C25.9,115.2 24.6,110.8 23.4,106.9C22.1,103.0 20.9,100.0 19.7,95.2C18.5,90.5 15.7,81.2 16.4,78.4Z" fill="#dcdcdc"/>
<path d="M21.9,90.8C22.2,89.4 24.8,91.8 26.0,93.8C27.2,95.7 28.2,99.1 29.2,102.5C30.2,105.9 31.7,111.3 31.8,114.2C31.9,117.1 30.7,120.3 29.9,120.0C29.1,119.8 28.0,115.7 27.0,112.7C26.0,109.8 24.9,106.2 24.1,102.5C23.2,98.9 21.6,92.3 21.9,90.8Z" fill="#f9f9f9"/>
<path d="M14.6,105.4C15.0,102.3 17.9,101.8 19.7,104.0C21.5,106.2 24.3,114.4 25.5,118.6C26.8,122.7 27.6,126.6 27.0,128.8C26.4,131.0 23.5,132.7 21.9,131.7C20.3,130.7 18.7,127.3 17.5,123.0C16.3,118.6 14.2,108.6 14.6,105.4Z" fill="#434343"/>
<path d="M8.5,103.7C9.0,102.2 12.2,103.2 13.9,106.9C15.5,110.6 18.0,122.2 18.2,125.9C18.5,129.5 16.6,130.5 15.3,128.8C14.0,127.1 11.7,119.8 10.5,115.7C9.4,111.5 7.9,105.1 8.5,103.7Z" fill="#999999"/>
<path d="M15.3,125.9C16.7,125.4 21.8,126.7 24.1,127.6C26.4,128.6 26.8,130.1 29.2,131.4C31.6,132.7 36.5,133.4 38.7,135.4C40.9,137.4 42.4,141.3 42.3,143.4C42.3,145.5 39.9,147.6 38.5,148.1C37.2,148.6 35.3,147.8 34.3,146.3C33.4,144.8 34.9,141.2 32.8,139.0C30.8,136.8 24.7,134.6 21.9,133.2C19.1,131.8 17.2,131.8 16.1,130.5C15.0,129.3 14.0,126.4 15.3,125.9Z" fill="#838383"/>
<path d="M15.8,126.3C17.1,125.9 21.8,126.8 24.1,127.6C26.3,128.5 26.8,130.1 29.2,131.4C31.6,132.7 36.6,134.2 38.2,135.4C39.9,136.5 40.3,138.4 39.1,138.4C37.9,138.5 33.8,136.5 30.9,135.5C28.1,134.5 24.3,133.2 21.9,132.3C19.5,131.4 17.4,130.8 16.4,129.8C15.3,128.8 14.5,126.7 15.8,126.3Z" fill="#e9e9e9"/>
<path d="M12.0,40.0C13.0,38.3 15.8,39.5 16.0,42.0C16.2,44.5 14.0,50.7 13.0,55.0C12.0,59.3 10.7,64.2 10.0,68.0C9.3,71.8 9.8,75.7 9.0,78.0C8.2,80.3 5.8,82.7 5.0,82.0C4.2,81.3 3.8,77.0 4.0,74.0C4.2,71.0 5.0,67.7 6.0,64.0C7.0,60.3 9.0,56.0 10.0,52.0C11.0,48.0 11.0,41.7 12.0,40.0Z" fill="#c9c9c9"/>
<path d="M61.1,128.0C64.8,126.9 72.2,126.9 76.0,128.0C79.7,129.1 82.2,131.4 83.4,134.8C84.6,138.1 84.6,144.9 83.4,148.2C82.2,151.6 79.7,153.9 76.0,155.0C72.2,156.1 64.8,156.1 61.1,155.0C57.3,153.9 54.8,151.6 53.6,148.2C52.4,144.9 52.4,138.1 53.6,134.8C54.8,131.4 57.3,129.1 61.1,128.0Z" fill="#393939"/>
<path d="M58.0,134.0C58.7,132.8 62.3,131.3 66.0,133.0C69.7,134.7 77.5,141.3 80.0,144.0C82.5,146.7 82.3,148.5 81.0,149.0C79.7,149.5 75.2,148.5 72.0,147.0C68.8,145.5 64.3,142.2 62.0,140.0C59.7,137.8 57.3,135.2 58.0,134.0Z" fill="#636363"/>
<path d="M85.5,33.0C86.8,32.6 89.2,32.6 90.5,33.0C91.8,33.4 92.6,34.2 93.0,35.5C93.4,36.8 93.4,39.2 93.0,40.5C92.6,41.8 91.8,42.6 90.5,43.0C89.2,43.4 86.8,43.4 85.5,43.0C84.2,42.6 83.4,41.8 83.0,40.5C82.6,39.2 82.6,36.8 83.0,35.5C83.4,34.2 84.2,33.4 85.5,33.0Z" fill="#535353"/>
<path d="M97.4,40.6C99.6,40.1 104.0,40.1 106.2,40.6C108.4,41.1 109.9,42.2 110.6,43.7C111.3,45.2 111.3,48.4 110.6,49.9C109.9,51.4 108.4,52.5 106.2,53.0C104.0,53.5 99.6,53.5 97.4,53.0C95.2,52.5 93.7,51.4 93.0,49.9C92.3,48.4 92.3,45.2 93.0,43.7C93.7,42.2 95.2,41.1 97.4,40.6Z" fill="#535353"/>
<path d="M102.5,63.0C104.8,62.1 109.2,62.1 111.5,63.0C113.8,63.9 115.2,65.8 116.0,68.5C116.8,71.2 116.8,76.8 116.0,79.5C115.2,82.2 113.8,84.1 111.5,85.0C109.2,85.9 104.8,85.9 102.5,85.0C100.2,84.1 98.8,82.2 98.0,79.5C97.2,76.8 97.2,71.2 98.0,68.5C98.8,65.8 100.2,63.9 102.5,63.0Z" fill="#393939"/>
<path d="M217.5,62.0C220.2,61.2 225.8,61.2 228.5,62.0C231.2,62.8 233.1,64.5 234.0,67.0C234.9,69.5 234.9,74.5 234.0,77.0C233.1,79.5 231.2,81.2 228.5,82.0C225.8,82.8 220.2,82.8 217.5,82.0C214.8,81.2 212.9,79.5 212.0,77.0C211.1,74.5 211.1,69.5 212.0,67.0C212.9,64.5 214.8,62.8 217.5,62.0Z" fill="#6c6c6c"/>
<path d="M278.0,62.0C279.7,59.3 286.0,58.7 288.0,60.0C290.0,61.3 290.2,66.7 290.0,70.0C289.8,73.3 288.0,76.3 287.0,80.0C286.0,83.7 285.8,90.0 284.0,92.0C282.2,94.0 277.0,94.7 276.0,92.0C275.0,89.3 277.7,81.0 278.0,76.0C278.3,71.0 276.3,64.7 278.0,62.0Z" fill="#cccccc"/>
<path d="M292.8,49.0C293.6,48.5 295.4,48.5 296.2,49.0C297.1,49.5 297.7,50.6 298.0,52.2C298.3,53.9 298.3,57.1 298.0,58.8C297.7,60.4 297.1,61.5 296.2,62.0C295.4,62.5 293.6,62.5 292.8,62.0C291.9,61.5 291.3,60.4 291.0,58.8C290.7,57.1 290.7,53.9 291.0,52.2C291.3,50.6 291.9,49.5 292.8,49.0Z" fill="#cfcfcf"/>
<path d="M275.9,43.0C278.6,42.4 283.8,42.4 286.4,43.0C289.1,43.6 290.8,44.8 291.7,46.6C292.6,48.4 292.6,52.1 291.7,53.9C290.8,55.7 289.1,56.9 286.4,57.5C283.8,58.1 278.6,58.1 275.9,57.5C273.3,56.9 271.6,55.7 270.7,53.9C269.8,52.1 269.8,48.4 270.7,46.6C271.6,44.8 273.3,43.6 275.9,43.0Z" fill="#767676"/>
<path d="M297.5,34.0C299.2,33.5 302.8,33.5 304.5,34.0C306.2,34.5 307.4,35.5 308.0,37.0C308.6,38.5 308.6,41.5 308.0,43.0C307.4,44.5 306.2,45.5 304.5,46.0C302.8,46.5 299.2,46.5 297.5,46.0C295.8,45.5 294.6,44.5 294.0,43.0C293.4,41.5 293.4,38.5 294.0,37.0C294.6,35.5 295.8,34.5 297.5,34.0Z" fill="#767676"/>
</g></g></g>
<use href="#borders" transform="translate(341,4.2)"/>
<use href="#us" transform="translate(341,4.2)" fill="none" stroke="#33332c" stroke-width="0.75" stroke-opacity="0.9" stroke-linejoin="round"/>
<text x="125.6" y="14.7" font-size="17.8" textLength="66.4" lengthAdjust="spacingAndGlyphs">Baseline</text>
<text x="442" y="14.7" font-size="17.8" textLength="100" lengthAdjust="spacingAndGlyphs">2°C Increase</text>
<text x="115.8" y="245.5" font-size="17.8" textLength="100" lengthAdjust="spacingAndGlyphs">4°C Increase</text>
<text x="24.5" y="200.3" font-size="13.3" textLength="18" lengthAdjust="spacingAndGlyphs">(A)</text>
<text x="372.6" y="203.8" font-size="13.3" textLength="17" lengthAdjust="spacingAndGlyphs">(C)</text>
<text x="24.5" y="428.5" font-size="13.3" textLength="17.8" lengthAdjust="spacingAndGlyphs">(B)</text>
<text x="371.5" y="551" font-size="13.3" textLength="17.8" lengthAdjust="spacingAndGlyphs">(D)</text>
<text x="446.8" y="248" font-size="14.6" textLength="221.5" lengthAdjust="spacingAndGlyphs">Percentage of Stations Exceeding</text>
<text x="431.9" y="266.7" font-size="14.6" textLength="236.3" lengthAdjust="spacingAndGlyphs">Baseline Median by Climate Region</text>
<text x="9.6" y="521.9" font-size="14.2" textLength="188" lengthAdjust="spacingAndGlyphs">100 Year Precipitation (mm)</text>
<text x="19.7" y="543.4" font-size="13.4" textLength="22.3" lengthAdjust="spacingAndGlyphs">≤75</text>
<text x="55.2" y="543.4" font-size="13.4" textLength="22.8" lengthAdjust="spacingAndGlyphs">150</text>
<text x="90.7" y="543.4" font-size="13.4" textLength="22.7" lengthAdjust="spacingAndGlyphs">225</text>
<text x="125.3" y="543.4" font-size="13.4" textLength="22.7" lengthAdjust="spacingAndGlyphs">300</text>
<text x="159.9" y="543.4" font-size="13.4" textLength="22.3" lengthAdjust="spacingAndGlyphs">375</text>
<text x="194" y="543.4" font-size="13.4" textLength="23.3" lengthAdjust="spacingAndGlyphs">450</text>
<text x="228.6" y="543.4" font-size="13.4" textLength="23.3" lengthAdjust="spacingAndGlyphs">525</text>
<text x="261.5" y="543.4" font-size="13.4" textLength="28.0" lengthAdjust="spacingAndGlyphs">≥600</text>
<rect x="20.6" y="548.2" width="23.6" height="9.2" fill="#FFFDBB"/>
<rect x="55.3" y="548.2" width="23.6" height="9.2" fill="#FEDD8E"/>
<rect x="90.0" y="548.2" width="23.6" height="9.2" fill="#FDAA5E"/>
<rect x="124.8" y="548.2" width="23.6" height="9.2" fill="#F8703F"/>
<rect x="159.5" y="548.2" width="23.6" height="9.2" fill="#DA9DC6"/>
<rect x="194.2" y="548.2" width="23.6" height="9.2" fill="#CC5C9C"/>
<rect x="228.9" y="548.2" width="23.6" height="9.2" fill="#A5047B"/>
<rect x="263.6" y="548.2" width="23.6" height="9.2" fill="#66003F"/>
<path d="M131.6,469.5V474.2H241.7V469.5M159.1,471.9V474.2M186.6,471.9V474.2M214.2,471.9V474.2" fill="none" stroke="#777" stroke-width="0.9"/>
<text x="131.6" y="466.2" font-size="10.5" text-anchor="middle" class="ax">0</text>
<text x="186.6" y="466.2" font-size="10.5" text-anchor="middle" class="ax">1,000</text>
<text x="241.3" y="466.2" font-size="10.5" text-anchor="middle" class="ax">2,000</text>
<text x="262.5" y="466.2" font-size="10.5" textLength="51.7" lengthAdjust="spacingAndGlyphs" class="ax">Kilometers</text>
<path d="M119.6,452.1V478.3M119.4,452.1L123.8,462.4L119.8,461" fill="none" stroke="#2a2a2a" stroke-width="0.75" stroke-linejoin="miter"/>
<text x="120" y="476.3" font-size="8.6" text-anchor="middle" stroke="#222" stroke-width="0.25">N</text>
<path d="M494.1,281V505M548.8,281V505M603.6,281V505M658.3,281V505" stroke="#f2f2f2" stroke-width="0.6" fill="none"/>
<path d="M466.7,281V505M521.5,281V505M576.2,281V505M631.0,281V505M456.5,296.7H683M456.5,321.0H683M456.5,345.4H683M456.5,369.7H683M456.5,394.1H683M456.5,418.4H683M456.5,442.7H683M456.5,467.1H683M456.5,491.4H683" stroke="#e9e9e9" stroke-width="0.9" fill="none"/>
<rect x="467.2" y="288.6" width="205.6" height="5.2" fill="#C0161F"/>
<rect x="467.2" y="294.0" width="174.9" height="5.2" fill="#F89232"/>
<rect x="467.2" y="299.4" width="133.5" height="5.2" fill="#BDBDBD"/>
<text x="452.8" y="302.0" font-size="13.65" text-anchor="end" class="ax">Southeast</text>
<rect x="467.2" y="312.9" width="171.2" height="5.2" fill="#C0161F"/>
<rect x="467.2" y="318.3" width="144.9" height="5.2" fill="#F89232"/>
<rect x="467.2" y="323.7" width="93.7" height="5.2" fill="#BDBDBD"/>
<text x="452.8" y="326.3" font-size="13.65" text-anchor="end" class="ax">South</text>
<rect x="467.2" y="337.3" width="141.2" height="5.2" fill="#C0161F"/>
<rect x="467.2" y="342.7" width="87.5" height="5.2" fill="#F89232"/>
<rect x="467.2" y="348.1" width="36.9" height="5.2" fill="#BDBDBD"/>
<text x="452.8" y="350.7" font-size="13.65" text-anchor="end" class="ax">Northeast</text>
<rect x="467.2" y="361.6" width="130.2" height="5.2" fill="#C0161F"/>
<rect x="467.2" y="367.0" width="77.9" height="5.2" fill="#F89232"/>
<rect x="467.2" y="372.4" width="28.4" height="5.2" fill="#BDBDBD"/>
<text x="452.8" y="375.0" font-size="13.65" text-anchor="end" class="ax">Ohio Valley</text>
<rect x="467.2" y="386.0" width="95.0" height="5.2" fill="#C0161F"/>
<rect x="467.2" y="391.4" width="39.3" height="5.2" fill="#F89232"/>
<rect x="467.2" y="396.8" width="4.7" height="5.2" fill="#BDBDBD"/>
<text x="452.8" y="399.4" font-size="13.65" text-anchor="end" class="ax">Upper Midwest</text>
<rect x="467.2" y="410.3" width="58.4" height="5.2" fill="#C0161F"/>
<rect x="467.2" y="415.7" width="41.3" height="5.2" fill="#F89232"/>
<rect x="467.2" y="421.1" width="26.6" height="5.2" fill="#BDBDBD"/>
<text x="452.8" y="423.7" font-size="13.65" text-anchor="end" class="ax">West</text>
<rect x="467.2" y="434.6" width="46.1" height="5.2" fill="#C0161F"/>
<rect x="467.2" y="440.0" width="36.3" height="5.2" fill="#F89232"/>
<rect x="467.2" y="445.4" width="23.6" height="5.2" fill="#BDBDBD"/>
<text x="452.8" y="448.0" font-size="13.65" text-anchor="end" class="ax">Northwest</text>
<rect x="467.2" y="459.0" width="58.8" height="5.2" fill="#C0161F"/>
<rect x="467.2" y="464.4" width="23.6" height="5.2" fill="#F89232"/>
<rect x="467.2" y="469.8" width="3.4" height="5.2" fill="#BDBDBD"/>
<text x="448.4" y="464.3" font-size="13.65" text-anchor="end" class="ax">Northern Rockies</text>
<text x="452.8" y="479" font-size="13.65" text-anchor="end" class="ax">and Plains</text>
<rect x="467.2" y="483.3" width="38.9" height="5.2" fill="#C0161F"/>
<rect x="467.2" y="488.7" width="14.4" height="5.2" fill="#F89232"/>
<rect x="467.2" y="494.1" width="2.8" height="5.2" fill="#BDBDBD"/>
<text x="452.8" y="496.7" font-size="13.65" text-anchor="end" class="ax">Southwest</text>
<text x="466.7" y="519.4" font-size="12.8" text-anchor="middle" class="ax">0</text>
<text x="521.5" y="519.4" font-size="12.8" text-anchor="middle" class="ax">25</text>
<text x="576.2" y="519.4" font-size="12.8" text-anchor="middle" class="ax">50</text>
<text x="631.0" y="519.4" font-size="12.8" text-anchor="middle" class="ax">75</text>
<text x="520.5" y="535.3" font-size="12.5" textLength="84.5" lengthAdjust="spacingAndGlyphs">(in percentage)</text>
<rect x="485.1" y="550.2" width="11.2" height="11.2" fill="#BDBDBD"/>
<rect x="559.2" y="550.2" width="11.2" height="11.2" fill="#F89232"/>
<rect x="612.4" y="550.2" width="11.2" height="11.2" fill="#C0161F"/>
<text x="501.6" y="560.4" font-size="13.4" textLength="50.8" lengthAdjust="spacingAndGlyphs" class="ax">Baseline</text>
<text x="575.2" y="560.4" font-size="13.4" textLength="30.8" lengthAdjust="spacingAndGlyphs" class="ax">Δ2°C</text>
<text x="628.4" y="560.4" font-size="13.4" textLength="31.5" lengthAdjust="spacingAndGlyphs" class="ax">Δ4°C</text>
</svg></body></html>
